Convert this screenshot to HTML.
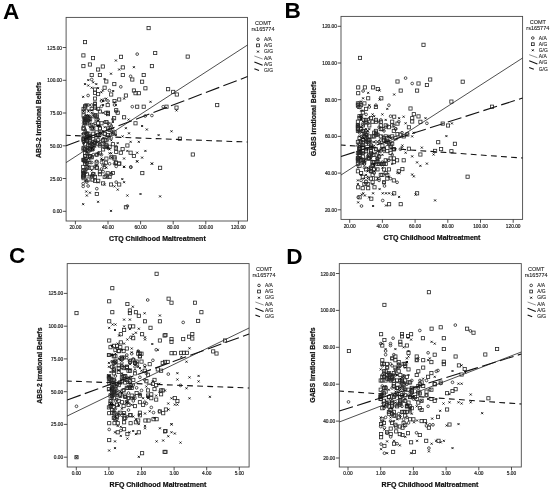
<!DOCTYPE html>
<html lang="en"><head><meta charset="utf-8"><title>COMT rs165774 scatterplots</title>
<style>html,body{margin:0;padding:0;background:#fff}svg{display:block}text{font-family:"Liberation Sans", Arial, sans-serif;fill:#1c1c1c}.tk{font-size:4.8px;stroke:#222;stroke-width:0.18px}.ti{font-size:7px;font-weight:bold;fill:#111;stroke:#111;stroke-width:0.22px}.pl{font-size:22.6px;font-weight:bold;fill:#000}.lt{font-size:5.5px;stroke:#222;stroke-width:0.1px}.li{font-size:4.9px;stroke:#222;stroke-width:0.1px}.mk{fill:none;stroke:#262626;stroke-width:0.8}.mk path{stroke-width:0.85;stroke:#000}.lm{fill:none;stroke:#1a1a1a;stroke-width:0.8}.lm path{stroke:#000;stroke-width:0.95}</style></head><body>
<svg width="550" height="490" viewBox="0 0 550 490">
<rect width="550" height="490" fill="#fff"/>
<g id="panelA">
<text class="pl" x="2.9" y="19.0">A</text>
<rect x="66.1" y="17.4" width="181.4" height="203.6" fill="none" stroke="#484848" stroke-width="0.9"/>
<text class="tk" text-anchor="middle" x="75.4" y="229.1">20.00</text>
<text class="tk" text-anchor="middle" x="108.0" y="229.1">40.00</text>
<text class="tk" text-anchor="middle" x="140.6" y="229.1">60.00</text>
<text class="tk" text-anchor="middle" x="173.2" y="229.1">80.00</text>
<text class="tk" text-anchor="middle" x="205.8" y="229.1">100.00</text>
<text class="tk" text-anchor="middle" x="238.4" y="229.1">120.00</text>
<text class="tk" text-anchor="end" x="62.0" y="213.3">0.00</text>
<text class="tk" text-anchor="end" x="62.0" y="180.5">25.00</text>
<text class="tk" text-anchor="end" x="62.0" y="147.8">50.00</text>
<text class="tk" text-anchor="end" x="62.0" y="115.0">75.00</text>
<text class="tk" text-anchor="end" x="62.0" y="82.3">100.00</text>
<text class="tk" text-anchor="end" x="62.0" y="49.5">125.00</text>
<path d="M75.4 221.0v3.4M108.0 221.0v3.4M140.6 221.0v3.4M173.2 221.0v3.4M205.8 221.0v3.4M238.4 221.0v3.4M66.1 211.3h-3.4M66.1 178.5h-3.4M66.1 145.8h-3.4M66.1 113.0h-3.4M66.1 80.3h-3.4M66.1 47.5h-3.4" stroke="#333" stroke-width="0.85" fill="none"/>
<text class="ti" text-anchor="middle" x="157.3" y="240.8">CTQ Childhood Maltreatment</text>
<text class="ti" style="font-size:6.85px" text-anchor="middle" transform="translate(40.8 119.9) rotate(-90)">ABS-2 Irrational Beliefs</text>
<g class="mk">
<rect x="83.4" y="40.5" width="3.2" height="3.2"/>
<rect x="81.8" y="53.8" width="3.2" height="3.2"/>
<rect x="91.4" y="56.5" width="3.2" height="3.2"/>
<rect x="81.8" y="64.5" width="3.2" height="3.2"/>
<rect x="88.3" y="62.9" width="3.2" height="3.2"/>
<rect x="101.2" y="64.9" width="3.2" height="3.2"/>
<rect x="96.5" y="67.9" width="3.2" height="3.2"/>
<rect x="90.1" y="73.4" width="3.2" height="3.2"/>
<rect x="98.3" y="73.4" width="3.2" height="3.2"/>
<rect x="119.4" y="55.2" width="3.2" height="3.2"/>
<rect x="121.2" y="65.8" width="3.2" height="3.2"/>
<rect x="121.2" y="73.4" width="3.2" height="3.2"/>
<rect x="147.0" y="26.5" width="3.2" height="3.2"/>
<rect x="153.6" y="51.4" width="3.2" height="3.2"/>
<rect x="150.3" y="64.5" width="3.2" height="3.2"/>
<rect x="142.1" y="73.4" width="3.2" height="3.2"/>
<rect x="130.7" y="77.9" width="3.2" height="3.2"/>
<rect x="140.5" y="80.1" width="3.2" height="3.2"/>
<rect x="143.8" y="86.7" width="3.2" height="3.2"/>
<rect x="132.3" y="88.9" width="3.2" height="3.2"/>
<rect x="137.2" y="91.6" width="3.2" height="3.2"/>
<rect x="133.9" y="91.6" width="3.2" height="3.2"/>
<rect x="104.7" y="79.9" width="3.2" height="3.2"/>
<rect x="112.7" y="82.5" width="3.2" height="3.2"/>
<rect x="103.0" y="86.1" width="3.2" height="3.2"/>
<rect x="93.4" y="87.9" width="3.2" height="3.2"/>
<rect x="93.4" y="91.2" width="3.2" height="3.2"/>
<rect x="109.6" y="92.9" width="3.2" height="3.2"/>
<rect x="124.3" y="93.9" width="3.2" height="3.2"/>
<rect x="93.4" y="97.0" width="3.2" height="3.2"/>
<rect x="117.6" y="97.9" width="3.2" height="3.2"/>
<rect x="96.5" y="92.5" width="3.2" height="3.2"/>
<circle cx="137.2" cy="54.1" r="1.35"/>
<circle cx="130.6" cy="76.3" r="1.35"/>
<circle cx="120.8" cy="86.8" r="1.35"/>
<circle cx="109.5" cy="90.5" r="1.35"/>
<circle cx="88.1" cy="95.5" r="1.35"/>
<circle cx="91.7" cy="79.5" r="1.35"/>
<path d="M114.9 59.5l2 2m0 -2l-2 2"/>
<path d="M132.9 66.2l2 2m0 -2l-2 2"/>
<path d="M118.2 68.5l2 2m0 -2l-2 2"/>
<path d="M110.0 72.7l2 2m0 -2l-2 2"/>
<path d="M87.3 79.1l2 2m0 -2l-2 2"/>
<path d="M84.0 83.1l2 2m0 -2l-2 2"/>
<path d="M87.3 84.5l2 2m0 -2l-2 2"/>
<path d="M92.2 81.3l2 2m0 -2l-2 2"/>
<path d="M95.3 83.1l2 2m0 -2l-2 2"/>
<path d="M103.6 78.0l2 2m0 -2l-2 2"/>
<path d="M90.7 86.7l2 2m0 -2l-2 2"/>
<path d="M97.1 87.1l2 2m0 -2l-2 2"/>
<path d="M100.4 91.3l2 2m0 -2l-2 2"/>
<path d="M112.2 90.0l2 2m0 -2l-2 2"/>
<path d="M82.2 95.8l2 2m0 -2l-2 2"/>
<path d="M105.3 97.6l2 2m0 -2l-2 2"/>
<path d="M123.1 97.6l2 2m0 -2l-2 2"/>
<path d="M101.8 89.5l2 2m0 -2l-2 2"/>
<rect x="186.1" y="55.0" width="3.2" height="3.2"/>
<rect x="166.5" y="87.6" width="3.2" height="3.2"/>
<rect x="171.6" y="90.3" width="3.2" height="3.2"/>
<rect x="175.2" y="92.9" width="3.2" height="3.2"/>
<circle cx="132.3" cy="106.7" r="1.35"/>
<circle cx="151.9" cy="115.5" r="1.35"/>
<circle cx="145.2" cy="116.0" r="1.35"/>
<circle cx="130.8" cy="167.3" r="1.35"/>
<circle cx="163.2" cy="106.7" r="1.35"/>
<rect x="135.6" y="105.1" width="3.2" height="3.2"/>
<rect x="142.1" y="105.1" width="3.2" height="3.2"/>
<rect x="133.9" y="121.7" width="3.2" height="3.2"/>
<rect x="106.1" y="103.5" width="3.2" height="3.2"/>
<rect x="116.1" y="111.1" width="3.2" height="3.2"/>
<rect x="122.5" y="115.7" width="3.2" height="3.2"/>
<rect x="112.5" y="116.6" width="3.2" height="3.2"/>
<rect x="125.8" y="143.9" width="3.2" height="3.2"/>
<rect x="114.3" y="146.6" width="3.2" height="3.2"/>
<rect x="121.0" y="147.5" width="3.2" height="3.2"/>
<rect x="119.2" y="151.1" width="3.2" height="3.2"/>
<rect x="129.0" y="151.1" width="3.2" height="3.2"/>
<rect x="132.3" y="154.4" width="3.2" height="3.2"/>
<rect x="117.6" y="162.0" width="3.2" height="3.2"/>
<rect x="114.3" y="161.1" width="3.2" height="3.2"/>
<path d="M149.5 100.8l2 2m0 -2l-2 2"/>
<path d="M114.9 104.1l2 2m0 -2l-2 2"/>
<path d="M127.6 118.6l2 2m0 -2l-2 2"/>
<path d="M141.1 125.0l2 2m0 -2l-2 2"/>
<path d="M145.8 128.5l2 2m0 -2l-2 2"/>
<path d="M124.9 127.2l2 2m0 -2l-2 2"/>
<path d="M128.0 132.3l2 2m0 -2l-2 2"/>
<path d="M157.6 134.1l2 2m0 -2l-2 2"/>
<path d="M114.9 134.1l2 2m0 -2l-2 2"/>
<path d="M121.6 135.4l2 2m0 -2l-2 2"/>
<path d="M129.6 140.8l2 2m0 -2l-2 2"/>
<path d="M137.8 140.8l2 2m0 -2l-2 2"/>
<path d="M116.7 142.1l2 2m0 -2l-2 2"/>
<path d="M126.4 149.9l2 2m0 -2l-2 2"/>
<path d="M136.2 151.7l2 2m0 -2l-2 2"/>
<path d="M144.4 149.9l2 2m0 -2l-2 2"/>
<path d="M141.1 156.6l2 2m0 -2l-2 2"/>
<path d="M123.1 157.5l2 2m0 -2l-2 2"/>
<path d="M136.2 160.3l2 2m0 -2l-2 2"/>
<path d="M150.9 162.6l2 2m0 -2l-2 2"/>
<path d="M123.1 165.9l2 2m0 -2l-2 2"/>
<rect x="164.9" y="105.1" width="3.2" height="3.2"/>
<rect x="174.9" y="106.0" width="3.2" height="3.2"/>
<rect x="215.6" y="103.5" width="3.2" height="3.2"/>
<rect x="178.3" y="137.1" width="3.2" height="3.2"/>
<rect x="191.2" y="152.9" width="3.2" height="3.2"/>
<path d="M175.5 109.4l2 2m0 -2l-2 2"/>
<path d="M170.5 130.3l2 2m0 -2l-2 2"/>
<rect x="81.6" y="175.3" width="3.2" height="3.2"/>
<rect x="91.0" y="178.0" width="3.2" height="3.2"/>
<rect x="98.3" y="172.6" width="3.2" height="3.2"/>
<rect x="106.1" y="171.7" width="3.2" height="3.2"/>
<rect x="109.4" y="182.9" width="3.2" height="3.2"/>
<rect x="117.6" y="182.9" width="3.2" height="3.2"/>
<rect x="95.2" y="192.4" width="3.2" height="3.2"/>
<rect x="124.3" y="205.7" width="3.2" height="3.2"/>
<rect x="140.7" y="171.5" width="3.2" height="3.2"/>
<rect x="158.5" y="166.2" width="3.2" height="3.2"/>
<rect x="81.6" y="165.3" width="3.2" height="3.2"/>
<rect x="85.2" y="165.7" width="3.2" height="3.2"/>
<rect x="95.2" y="166.0" width="3.2" height="3.2"/>
<rect x="81.6" y="169.7" width="3.2" height="3.2"/>
<rect x="117.6" y="162.0" width="3.2" height="3.2"/>
<rect x="114.3" y="161.1" width="3.2" height="3.2"/>
<rect x="104.3" y="161.1" width="3.2" height="3.2"/>
<circle cx="130.8" cy="166.9" r="1.35"/>
<circle cx="127.4" cy="206.0" r="1.35"/>
<circle cx="96.8" cy="188.7" r="1.35"/>
<circle cx="83.2" cy="183.6" r="1.35"/>
<circle cx="88.1" cy="186.0" r="1.35"/>
<circle cx="83.2" cy="186.4" r="1.35"/>
<circle cx="107.7" cy="177.3" r="1.35"/>
<circle cx="111.4" cy="174.2" r="1.35"/>
<circle cx="104.6" cy="167.3" r="1.35"/>
<path d="M123.1 165.7l2 2m0 -2l-2 2"/>
<path d="M136.2 160.5l2 2m0 -2l-2 2"/>
<path d="M150.9 162.6l2 2m0 -2l-2 2"/>
<path d="M121.3 178.1l2 2m0 -2l-2 2"/>
<path d="M123.1 181.2l2 2m0 -2l-2 2"/>
<path d="M103.6 183.5l2 2m0 -2l-2 2"/>
<path d="M113.5 185.4l2 2m0 -2l-2 2"/>
<path d="M116.7 188.6l2 2m0 -2l-2 2"/>
<path d="M97.1 181.4l2 2m0 -2l-2 2"/>
<path d="M85.3 190.5l2 2m0 -2l-2 2"/>
<path d="M88.9 191.7l2 2m0 -2l-2 2"/>
<path d="M85.8 194.5l2 2m0 -2l-2 2"/>
<path d="M126.4 194.5l2 2m0 -2l-2 2"/>
<path d="M139.5 193.0l2 2m0 -2l-2 2"/>
<path d="M159.1 195.4l2 2m0 -2l-2 2"/>
<path d="M82.2 203.2l2 2m0 -2l-2 2"/>
<path d="M97.1 200.8l2 2m0 -2l-2 2"/>
<path d="M110.0 209.9l2 2m0 -2l-2 2"/>
<path d="M92.2 173.5l2 2m0 -2l-2 2"/>
<path d="M84.0 171.7l2 2m0 -2l-2 2"/>
<circle cx="83.6" cy="173.0" r="1.35"/>
<rect x="82.0" y="126.9" width="3.2" height="3.2"/>
<rect x="82.0" y="174.0" width="3.2" height="3.2"/>
<path d="M82.6 139.3l2 2m0 -2l-2 2"/>
<rect x="82.0" y="171.4" width="3.2" height="3.2"/>
<rect x="82.0" y="172.7" width="3.2" height="3.2"/>
<path d="M82.6 110.5l2 2m0 -2l-2 2"/>
<circle cx="83.6" cy="118.0" r="1.35"/>
<rect x="82.0" y="158.3" width="3.2" height="3.2"/>
<rect x="82.0" y="168.8" width="3.2" height="3.2"/>
<rect x="82.0" y="146.5" width="3.2" height="3.2"/>
<rect x="82.0" y="138.7" width="3.2" height="3.2"/>
<rect x="82.0" y="107.3" width="3.2" height="3.2"/>
<circle cx="83.6" cy="133.7" r="1.35"/>
<rect x="82.0" y="176.6" width="3.2" height="3.2"/>
<path d="M82.6 143.2l2 2m0 -2l-2 2"/>
<circle cx="83.6" cy="159.9" r="1.35"/>
<circle cx="83.6" cy="133.7" r="1.35"/>
<rect x="82.0" y="113.8" width="3.2" height="3.2"/>
<rect x="82.0" y="174.0" width="3.2" height="3.2"/>
<circle cx="83.6" cy="141.6" r="1.35"/>
<rect x="82.0" y="126.9" width="3.2" height="3.2"/>
<circle cx="83.6" cy="123.3" r="1.35"/>
<circle cx="83.6" cy="161.2" r="1.35"/>
<circle cx="83.6" cy="120.6" r="1.35"/>
<rect x="82.0" y="137.4" width="3.2" height="3.2"/>
<rect x="82.0" y="109.9" width="3.2" height="3.2"/>
<path d="M82.6 141.9l2 2m0 -2l-2 2"/>
<rect x="82.0" y="133.4" width="3.2" height="3.2"/>
<rect x="82.0" y="158.3" width="3.2" height="3.2"/>
<rect x="82.0" y="147.8" width="3.2" height="3.2"/>
<rect x="82.0" y="137.4" width="3.2" height="3.2"/>
<circle cx="83.6" cy="125.9" r="1.35"/>
<rect x="83.6" y="121.7" width="3.2" height="3.2"/>
<rect x="83.6" y="106.0" width="3.2" height="3.2"/>
<path d="M84.2 139.3l2 2m0 -2l-2 2"/>
<rect x="83.6" y="151.7" width="3.2" height="3.2"/>
<rect x="83.6" y="154.4" width="3.2" height="3.2"/>
<circle cx="85.2" cy="129.8" r="1.35"/>
<circle cx="85.2" cy="131.1" r="1.35"/>
<rect x="83.6" y="159.6" width="3.2" height="3.2"/>
<path d="M84.2 179.8l2 2m0 -2l-2 2"/>
<rect x="83.6" y="104.7" width="3.2" height="3.2"/>
<rect x="83.6" y="117.7" width="3.2" height="3.2"/>
<circle cx="85.2" cy="140.3" r="1.35"/>
<rect x="83.6" y="147.8" width="3.2" height="3.2"/>
<rect x="83.6" y="117.7" width="3.2" height="3.2"/>
<path d="M84.2 156.3l2 2m0 -2l-2 2"/>
<rect x="83.6" y="147.8" width="3.2" height="3.2"/>
<rect x="83.6" y="117.7" width="3.2" height="3.2"/>
<rect x="83.6" y="162.2" width="3.2" height="3.2"/>
<circle cx="85.2" cy="105.0" r="1.35"/>
<path d="M84.2 138.0l2 2m0 -2l-2 2"/>
<circle cx="85.2" cy="120.6" r="1.35"/>
<circle cx="85.2" cy="116.7" r="1.35"/>
<rect x="83.6" y="159.6" width="3.2" height="3.2"/>
<rect x="83.6" y="154.4" width="3.2" height="3.2"/>
<path d="M84.2 118.3l2 2m0 -2l-2 2"/>
<rect x="83.6" y="142.6" width="3.2" height="3.2"/>
<rect x="83.6" y="120.4" width="3.2" height="3.2"/>
<rect x="83.6" y="170.1" width="3.2" height="3.2"/>
<rect x="85.2" y="138.7" width="3.2" height="3.2"/>
<path d="M85.8 148.4l2 2m0 -2l-2 2"/>
<rect x="85.2" y="115.1" width="3.2" height="3.2"/>
<circle cx="86.8" cy="169.0" r="1.35"/>
<rect x="85.2" y="136.1" width="3.2" height="3.2"/>
<rect x="85.2" y="132.1" width="3.2" height="3.2"/>
<rect x="85.2" y="121.7" width="3.2" height="3.2"/>
<path d="M85.8 131.4l2 2m0 -2l-2 2"/>
<circle cx="86.8" cy="122.0" r="1.35"/>
<circle cx="86.8" cy="119.3" r="1.35"/>
<path d="M85.8 161.5l2 2m0 -2l-2 2"/>
<rect x="85.2" y="172.7" width="3.2" height="3.2"/>
<circle cx="86.8" cy="133.7" r="1.35"/>
<path d="M85.8 136.7l2 2m0 -2l-2 2"/>
<path d="M85.8 132.7l2 2m0 -2l-2 2"/>
<rect x="85.2" y="138.7" width="3.2" height="3.2"/>
<circle cx="86.8" cy="141.6" r="1.35"/>
<rect x="85.2" y="160.9" width="3.2" height="3.2"/>
<circle cx="86.8" cy="182.1" r="1.35"/>
<path d="M85.8 151.0l2 2m0 -2l-2 2"/>
<circle cx="86.8" cy="153.3" r="1.35"/>
<circle cx="86.8" cy="163.8" r="1.35"/>
<circle cx="86.8" cy="105.0" r="1.35"/>
<circle cx="86.8" cy="180.8" r="1.35"/>
<path d="M85.8 114.4l2 2m0 -2l-2 2"/>
<path d="M87.4 157.6l2 2m0 -2l-2 2"/>
<path d="M87.4 157.6l2 2m0 -2l-2 2"/>
<circle cx="88.4" cy="105.0" r="1.35"/>
<circle cx="88.4" cy="120.6" r="1.35"/>
<path d="M87.4 141.9l2 2m0 -2l-2 2"/>
<path d="M87.4 165.4l2 2m0 -2l-2 2"/>
<rect x="86.8" y="117.7" width="3.2" height="3.2"/>
<path d="M87.4 138.0l2 2m0 -2l-2 2"/>
<rect x="86.8" y="143.9" width="3.2" height="3.2"/>
<rect x="86.8" y="132.1" width="3.2" height="3.2"/>
<rect x="86.8" y="177.9" width="3.2" height="3.2"/>
<path d="M87.4 114.4l2 2m0 -2l-2 2"/>
<rect x="86.8" y="136.1" width="3.2" height="3.2"/>
<path d="M87.4 109.2l2 2m0 -2l-2 2"/>
<rect x="86.8" y="116.4" width="3.2" height="3.2"/>
<rect x="86.8" y="146.5" width="3.2" height="3.2"/>
<circle cx="88.4" cy="154.7" r="1.35"/>
<rect x="86.8" y="166.1" width="3.2" height="3.2"/>
<rect x="86.8" y="158.3" width="3.2" height="3.2"/>
<rect x="86.8" y="149.1" width="3.2" height="3.2"/>
<path d="M87.4 110.5l2 2m0 -2l-2 2"/>
<rect x="86.8" y="116.4" width="3.2" height="3.2"/>
<rect x="88.5" y="143.9" width="3.2" height="3.2"/>
<rect x="88.5" y="140.0" width="3.2" height="3.2"/>
<path d="M89.1 119.6l2 2m0 -2l-2 2"/>
<circle cx="90.1" cy="162.5" r="1.35"/>
<circle cx="90.1" cy="137.7" r="1.35"/>
<rect x="88.5" y="147.8" width="3.2" height="3.2"/>
<circle cx="90.1" cy="136.3" r="1.35"/>
<path d="M89.1 126.2l2 2m0 -2l-2 2"/>
<rect x="88.5" y="154.4" width="3.2" height="3.2"/>
<rect x="88.5" y="117.7" width="3.2" height="3.2"/>
<circle cx="90.1" cy="116.7" r="1.35"/>
<rect x="88.5" y="136.1" width="3.2" height="3.2"/>
<path d="M89.1 122.3l2 2m0 -2l-2 2"/>
<path d="M89.1 174.6l2 2m0 -2l-2 2"/>
<circle cx="90.1" cy="125.9" r="1.35"/>
<rect x="88.5" y="147.8" width="3.2" height="3.2"/>
<rect x="88.5" y="154.4" width="3.2" height="3.2"/>
<rect x="88.5" y="134.7" width="3.2" height="3.2"/>
<rect x="88.5" y="141.3" width="3.2" height="3.2"/>
<rect x="88.5" y="154.4" width="3.2" height="3.2"/>
<path d="M90.7 148.4l2 2m0 -2l-2 2"/>
<path d="M90.7 169.4l2 2m0 -2l-2 2"/>
<circle cx="91.7" cy="176.9" r="1.35"/>
<rect x="90.1" y="107.3" width="3.2" height="3.2"/>
<rect x="90.1" y="155.7" width="3.2" height="3.2"/>
<circle cx="91.7" cy="175.6" r="1.35"/>
<rect x="90.1" y="126.9" width="3.2" height="3.2"/>
<circle cx="91.7" cy="162.5" r="1.35"/>
<path d="M90.7 109.2l2 2m0 -2l-2 2"/>
<rect x="90.1" y="147.8" width="3.2" height="3.2"/>
<path d="M90.7 147.1l2 2m0 -2l-2 2"/>
<circle cx="91.7" cy="142.9" r="1.35"/>
<circle cx="91.7" cy="157.3" r="1.35"/>
<circle cx="91.7" cy="105.0" r="1.35"/>
<rect x="90.1" y="142.6" width="3.2" height="3.2"/>
<rect x="90.1" y="166.1" width="3.2" height="3.2"/>
<path d="M90.7 111.8l2 2m0 -2l-2 2"/>
<circle cx="91.7" cy="124.6" r="1.35"/>
<circle cx="93.3" cy="145.5" r="1.35"/>
<rect x="91.7" y="137.4" width="3.2" height="3.2"/>
<rect x="91.7" y="132.1" width="3.2" height="3.2"/>
<circle cx="93.3" cy="154.7" r="1.35"/>
<path d="M92.3 127.5l2 2m0 -2l-2 2"/>
<path d="M92.3 126.2l2 2m0 -2l-2 2"/>
<circle cx="93.3" cy="116.7" r="1.35"/>
<rect x="91.7" y="172.7" width="3.2" height="3.2"/>
<rect x="91.7" y="126.9" width="3.2" height="3.2"/>
<path d="M92.3 141.9l2 2m0 -2l-2 2"/>
<path d="M92.3 148.4l2 2m0 -2l-2 2"/>
<path d="M92.3 145.8l2 2m0 -2l-2 2"/>
<circle cx="93.3" cy="149.4" r="1.35"/>
<circle cx="93.3" cy="114.1" r="1.35"/>
<circle cx="93.3" cy="124.6" r="1.35"/>
<rect x="91.7" y="172.7" width="3.2" height="3.2"/>
<path d="M94.0 143.2l2 2m0 -2l-2 2"/>
<rect x="93.4" y="175.3" width="3.2" height="3.2"/>
<circle cx="95.0" cy="140.3" r="1.35"/>
<circle cx="95.0" cy="166.4" r="1.35"/>
<path d="M94.0 140.6l2 2m0 -2l-2 2"/>
<rect x="93.4" y="179.2" width="3.2" height="3.2"/>
<path d="M94.0 135.3l2 2m0 -2l-2 2"/>
<circle cx="95.0" cy="103.6" r="1.35"/>
<rect x="93.4" y="141.3" width="3.2" height="3.2"/>
<rect x="93.4" y="106.0" width="3.2" height="3.2"/>
<rect x="93.4" y="113.8" width="3.2" height="3.2"/>
<path d="M94.0 145.8l2 2m0 -2l-2 2"/>
<circle cx="95.0" cy="123.3" r="1.35"/>
<rect x="93.4" y="104.7" width="3.2" height="3.2"/>
<rect x="93.4" y="102.0" width="3.2" height="3.2"/>
<rect x="95.0" y="130.8" width="3.2" height="3.2"/>
<rect x="95.0" y="160.9" width="3.2" height="3.2"/>
<path d="M95.6 107.9l2 2m0 -2l-2 2"/>
<rect x="95.0" y="113.8" width="3.2" height="3.2"/>
<rect x="95.0" y="115.1" width="3.2" height="3.2"/>
<rect x="95.0" y="166.1" width="3.2" height="3.2"/>
<rect x="95.0" y="142.6" width="3.2" height="3.2"/>
<rect x="95.0" y="153.1" width="3.2" height="3.2"/>
<path d="M95.6 140.6l2 2m0 -2l-2 2"/>
<circle cx="96.6" cy="161.2" r="1.35"/>
<path d="M95.6 164.1l2 2m0 -2l-2 2"/>
<path d="M95.6 124.9l2 2m0 -2l-2 2"/>
<circle cx="96.6" cy="154.7" r="1.35"/>
<rect x="95.0" y="117.7" width="3.2" height="3.2"/>
<circle cx="98.2" cy="153.3" r="1.35"/>
<circle cx="98.2" cy="119.3" r="1.35"/>
<path d="M97.2 124.9l2 2m0 -2l-2 2"/>
<rect x="96.6" y="121.7" width="3.2" height="3.2"/>
<rect x="96.6" y="107.3" width="3.2" height="3.2"/>
<rect x="96.6" y="133.4" width="3.2" height="3.2"/>
<path d="M97.2 152.3l2 2m0 -2l-2 2"/>
<path d="M97.2 119.6l2 2m0 -2l-2 2"/>
<circle cx="98.2" cy="136.3" r="1.35"/>
<path d="M97.2 124.9l2 2m0 -2l-2 2"/>
<path d="M97.2 140.6l2 2m0 -2l-2 2"/>
<rect x="96.6" y="179.2" width="3.2" height="3.2"/>
<rect x="96.6" y="138.7" width="3.2" height="3.2"/>
<path d="M98.9 131.4l2 2m0 -2l-2 2"/>
<path d="M98.9 132.7l2 2m0 -2l-2 2"/>
<rect x="98.3" y="151.7" width="3.2" height="3.2"/>
<rect x="98.3" y="143.9" width="3.2" height="3.2"/>
<rect x="98.3" y="126.9" width="3.2" height="3.2"/>
<circle cx="99.9" cy="144.2" r="1.35"/>
<rect x="98.3" y="126.9" width="3.2" height="3.2"/>
<rect x="98.3" y="170.1" width="3.2" height="3.2"/>
<path d="M98.9 131.4l2 2m0 -2l-2 2"/>
<circle cx="99.9" cy="135.0" r="1.35"/>
<path d="M98.9 124.9l2 2m0 -2l-2 2"/>
<rect x="98.3" y="109.9" width="3.2" height="3.2"/>
<path d="M100.5 132.7l2 2m0 -2l-2 2"/>
<rect x="99.9" y="121.7" width="3.2" height="3.2"/>
<path d="M100.5 98.7l2 2m0 -2l-2 2"/>
<circle cx="101.5" cy="169.0" r="1.35"/>
<path d="M100.5 157.6l2 2m0 -2l-2 2"/>
<path d="M100.5 158.9l2 2m0 -2l-2 2"/>
<rect x="99.9" y="142.6" width="3.2" height="3.2"/>
<circle cx="101.5" cy="101.0" r="1.35"/>
<circle cx="101.5" cy="162.5" r="1.35"/>
<circle cx="101.5" cy="106.3" r="1.35"/>
<circle cx="101.5" cy="154.7" r="1.35"/>
<rect x="101.5" y="181.8" width="3.2" height="3.2"/>
<rect x="101.5" y="138.7" width="3.2" height="3.2"/>
<rect x="101.5" y="147.8" width="3.2" height="3.2"/>
<path d="M102.1 111.8l2 2m0 -2l-2 2"/>
<path d="M102.1 136.7l2 2m0 -2l-2 2"/>
<path d="M102.1 130.1l2 2m0 -2l-2 2"/>
<path d="M102.1 158.9l2 2m0 -2l-2 2"/>
<path d="M102.1 104.0l2 2m0 -2l-2 2"/>
<circle cx="103.1" cy="165.1" r="1.35"/>
<circle cx="103.1" cy="171.7" r="1.35"/>
<path d="M102.1 100.0l2 2m0 -2l-2 2"/>
<rect x="103.1" y="132.1" width="3.2" height="3.2"/>
<rect x="103.1" y="145.2" width="3.2" height="3.2"/>
<rect x="103.1" y="132.1" width="3.2" height="3.2"/>
<circle cx="104.7" cy="122.0" r="1.35"/>
<path d="M103.7 126.2l2 2m0 -2l-2 2"/>
<path d="M103.7 141.9l2 2m0 -2l-2 2"/>
<circle cx="104.7" cy="99.7" r="1.35"/>
<rect x="103.1" y="138.7" width="3.2" height="3.2"/>
<rect x="103.1" y="175.3" width="3.2" height="3.2"/>
<circle cx="104.7" cy="165.1" r="1.35"/>
<rect x="104.8" y="120.4" width="3.2" height="3.2"/>
<rect x="104.8" y="111.2" width="3.2" height="3.2"/>
<circle cx="106.4" cy="146.8" r="1.35"/>
<rect x="104.8" y="143.9" width="3.2" height="3.2"/>
<rect x="104.8" y="174.0" width="3.2" height="3.2"/>
<rect x="104.8" y="143.9" width="3.2" height="3.2"/>
<rect x="104.8" y="157.0" width="3.2" height="3.2"/>
<path d="M105.4 166.7l2 2m0 -2l-2 2"/>
<rect x="104.8" y="138.7" width="3.2" height="3.2"/>
<rect x="106.4" y="133.4" width="3.2" height="3.2"/>
<rect x="106.4" y="112.5" width="3.2" height="3.2"/>
<circle cx="108.0" cy="101.0" r="1.35"/>
<circle cx="108.0" cy="139.0" r="1.35"/>
<circle cx="108.0" cy="148.1" r="1.35"/>
<rect x="106.4" y="111.2" width="3.2" height="3.2"/>
<rect x="106.4" y="126.9" width="3.2" height="3.2"/>
<path d="M107.0 147.1l2 2m0 -2l-2 2"/>
<circle cx="108.0" cy="123.3" r="1.35"/>
<path d="M108.6 148.4l2 2m0 -2l-2 2"/>
<rect x="108.0" y="145.2" width="3.2" height="3.2"/>
<path d="M108.6 135.3l2 2m0 -2l-2 2"/>
<rect x="108.0" y="128.2" width="3.2" height="3.2"/>
<rect x="108.0" y="175.3" width="3.2" height="3.2"/>
<rect x="108.0" y="123.0" width="3.2" height="3.2"/>
<circle cx="109.6" cy="163.8" r="1.35"/>
<path d="M108.6 152.3l2 2m0 -2l-2 2"/>
<path d="M110.3 139.3l2 2m0 -2l-2 2"/>
<circle cx="111.3" cy="137.7" r="1.35"/>
<circle cx="111.3" cy="125.9" r="1.35"/>
<rect x="109.7" y="155.7" width="3.2" height="3.2"/>
<path d="M110.3 156.3l2 2m0 -2l-2 2"/>
<path d="M110.3 172.0l2 2m0 -2l-2 2"/>
<path d="M110.3 152.3l2 2m0 -2l-2 2"/>
<circle cx="111.3" cy="131.1" r="1.35"/>
<circle cx="112.9" cy="119.3" r="1.35"/>
<rect x="111.3" y="132.1" width="3.2" height="3.2"/>
<rect x="111.3" y="142.6" width="3.2" height="3.2"/>
<rect x="111.3" y="171.4" width="3.2" height="3.2"/>
<path d="M111.9 121.0l2 2m0 -2l-2 2"/>
<path d="M111.9 127.5l2 2m0 -2l-2 2"/>
<path d="M111.9 132.7l2 2m0 -2l-2 2"/>
<rect x="112.9" y="155.7" width="3.2" height="3.2"/>
<rect x="112.9" y="157.0" width="3.2" height="3.2"/>
<circle cx="114.5" cy="163.8" r="1.35"/>
<rect x="112.9" y="99.4" width="3.2" height="3.2"/>
<path d="M113.5 101.3l2 2m0 -2l-2 2"/>
<circle cx="114.5" cy="105.0" r="1.35"/>
<rect x="112.9" y="130.8" width="3.2" height="3.2"/>
<circle cx="116.2" cy="111.5" r="1.35"/>
<circle cx="116.2" cy="166.4" r="1.35"/>
<rect x="114.6" y="108.6" width="3.2" height="3.2"/>
<circle cx="116.2" cy="182.1" r="1.35"/>
<rect x="114.6" y="150.4" width="3.2" height="3.2"/>
<circle cx="116.2" cy="146.8" r="1.35"/>
</g>
<line x1="66.1" y1="162.6" x2="247.5" y2="45.0" stroke="#222" stroke-width="0.8"/>
<line x1="66.1" y1="145.8" x2="247.5" y2="76.6" stroke="#111" stroke-width="1.1" stroke-dasharray="14.3 4.4"/>
<line x1="66.1" y1="135.3" x2="247.5" y2="142.0" stroke="#111" stroke-width="1.1" stroke-dasharray="5.8 4.3" stroke-dashoffset="1.2"/>
<text class="lt" text-anchor="middle" x="263.0" y="25.3">COMT</text>
<text class="lt" text-anchor="middle" x="263.0" y="31.1">rs165774</text>
<text class="li" x="264.0" y="41.0">A/A</text>
<text class="li" x="264.0" y="47.1">A/G</text>
<text class="li" x="264.0" y="53.3">G/G</text>
<text class="li" x="264.0" y="59.5">A/A</text>
<text class="li" x="264.0" y="65.6">A/G</text>
<text class="li" x="264.0" y="71.8">G/G</text>
<g class="lm"><circle cx="258.0" cy="39.3" r="1.3"/><rect x="256.6" y="44.0" width="2.8" height="2.8"/><path d="M257.1 50.7l1.8 1.8m0 -1.8l-1.8 1.8"/></g>
<line x1="254.4" y1="56.0" x2="262.6" y2="59.0" stroke="#222" stroke-width="0.5"/>
<line x1="254.4" y1="62.1" x2="262.6" y2="65.3" stroke="#111" stroke-width="1.1"/>
<line x1="254.4" y1="68.8" x2="259.0" y2="70.6" stroke="#111" stroke-width="1.1"/>
</g>
<g id="panelB">
<text class="pl" x="284.5" y="18.4">B</text>
<rect x="341.0" y="16.4" width="181.6" height="203.0" fill="none" stroke="#484848" stroke-width="0.9"/>
<text class="tk" text-anchor="middle" x="349.7" y="227.5">20.00</text>
<text class="tk" text-anchor="middle" x="382.4" y="227.5">40.00</text>
<text class="tk" text-anchor="middle" x="415.1" y="227.5">60.00</text>
<text class="tk" text-anchor="middle" x="447.8" y="227.5">80.00</text>
<text class="tk" text-anchor="middle" x="480.5" y="227.5">100.00</text>
<text class="tk" text-anchor="middle" x="513.2" y="227.5">120.00</text>
<text class="tk" text-anchor="end" x="336.9" y="211.8">20.00</text>
<text class="tk" text-anchor="end" x="336.9" y="175.1">40.00</text>
<text class="tk" text-anchor="end" x="336.9" y="138.4">60.00</text>
<text class="tk" text-anchor="end" x="336.9" y="101.7">80.00</text>
<text class="tk" text-anchor="end" x="336.9" y="65.0">100.00</text>
<text class="tk" text-anchor="end" x="336.9" y="28.3">120.00</text>
<path d="M349.7 219.4v3.4M382.4 219.4v3.4M415.1 219.4v3.4M447.8 219.4v3.4M480.5 219.4v3.4M513.2 219.4v3.4M341.0 209.8h-3.4M341.0 173.1h-3.4M341.0 136.4h-3.4M341.0 99.7h-3.4M341.0 63.0h-3.4M341.0 26.3h-3.4" stroke="#333" stroke-width="0.85" fill="none"/>
<text class="ti" text-anchor="middle" x="432.0" y="239.8">CTQ Childhood Maltreatment</text>
<text class="ti" style="font-size:6.85px" text-anchor="middle" transform="translate(315.6 118.5) rotate(-90)">GABS Irrational Beliefs</text>
<g class="mk">
<rect x="358.4" y="56.3" width="3.2" height="3.2"/>
<rect x="421.9" y="43.2" width="3.2" height="3.2"/>
<rect x="395.9" y="79.9" width="3.2" height="3.2"/>
<rect x="416.9" y="81.9" width="3.2" height="3.2"/>
<rect x="428.6" y="77.9" width="3.2" height="3.2"/>
<rect x="425.3" y="83.4" width="3.2" height="3.2"/>
<rect x="399.1" y="89.0" width="3.2" height="3.2"/>
<rect x="415.5" y="89.0" width="3.2" height="3.2"/>
<rect x="356.6" y="85.8" width="3.2" height="3.2"/>
<rect x="363.3" y="85.8" width="3.2" height="3.2"/>
<rect x="371.5" y="85.8" width="3.2" height="3.2"/>
<rect x="376.2" y="87.4" width="3.2" height="3.2"/>
<rect x="356.6" y="91.6" width="3.2" height="3.2"/>
<rect x="366.6" y="96.7" width="3.2" height="3.2"/>
<rect x="379.7" y="96.7" width="3.2" height="3.2"/>
<circle cx="405.6" cy="78.1" r="1.35"/>
<circle cx="412.2" cy="83.5" r="1.35"/>
<circle cx="363.1" cy="91.0" r="1.35"/>
<path d="M367.2 91.8l2 2m0 -2l-2 2"/>
<path d="M378.6 89.5l2 2m0 -2l-2 2"/>
<path d="M393.2 93.5l2 2m0 -2l-2 2"/>
<path d="M362.1 97.3l2 2m0 -2l-2 2"/>
<path d="M378.6 98.5l2 2m0 -2l-2 2"/>
<rect x="408.9" y="106.9" width="3.2" height="3.2"/>
<rect x="412.2" y="112.6" width="3.2" height="3.2"/>
<rect x="416.9" y="114.8" width="3.2" height="3.2"/>
<rect x="410.6" y="116.6" width="3.2" height="3.2"/>
<rect x="410.6" y="119.9" width="3.2" height="3.2"/>
<rect x="418.8" y="120.2" width="3.2" height="3.2"/>
<rect x="395.9" y="122.0" width="3.2" height="3.2"/>
<rect x="407.3" y="125.7" width="3.2" height="3.2"/>
<rect x="395.9" y="132.6" width="3.2" height="3.2"/>
<rect x="405.7" y="132.9" width="3.2" height="3.2"/>
<rect x="436.6" y="140.6" width="3.2" height="3.2"/>
<rect x="407.3" y="147.1" width="3.2" height="3.2"/>
<rect x="433.5" y="149.3" width="3.2" height="3.2"/>
<rect x="418.8" y="152.9" width="3.2" height="3.2"/>
<rect x="400.8" y="167.5" width="3.2" height="3.2"/>
<rect x="392.6" y="115.1" width="3.2" height="3.2"/>
<circle cx="426.9" cy="123.3" r="1.35"/>
<circle cx="395.8" cy="128.7" r="1.35"/>
<circle cx="407.3" cy="133.6" r="1.35"/>
<path d="M398.1 117.2l2 2m0 -2l-2 2"/>
<path d="M402.6 115.7l2 2m0 -2l-2 2"/>
<path d="M424.5 117.2l2 2m0 -2l-2 2"/>
<path d="M404.6 122.3l2 2m0 -2l-2 2"/>
<path d="M412.8 131.7l2 2m0 -2l-2 2"/>
<path d="M411.2 135.4l2 2m0 -2l-2 2"/>
<path d="M401.4 144.5l2 2m0 -2l-2 2"/>
<path d="M420.8 146.6l2 2m0 -2l-2 2"/>
<path d="M404.6 151.7l2 2m0 -2l-2 2"/>
<path d="M411.2 155.4l2 2m0 -2l-2 2"/>
<path d="M432.6 153.5l2 2m0 -2l-2 2"/>
<path d="M416.1 161.4l2 2m0 -2l-2 2"/>
<path d="M419.4 164.8l2 2m0 -2l-2 2"/>
<path d="M425.9 162.6l2 2m0 -2l-2 2"/>
<path d="M398.1 172.3l2 2m0 -2l-2 2"/>
<path d="M411.2 173.5l2 2m0 -2l-2 2"/>
<path d="M412.8 175.4l2 2m0 -2l-2 2"/>
<path d="M396.5 171.7l2 2m0 -2l-2 2"/>
<rect x="361.1" y="186.6" width="3.2" height="3.2"/>
<rect x="366.6" y="186.6" width="3.2" height="3.2"/>
<rect x="372.9" y="185.7" width="3.2" height="3.2"/>
<rect x="392.6" y="191.7" width="3.2" height="3.2"/>
<rect x="415.5" y="191.7" width="3.2" height="3.2"/>
<rect x="369.7" y="197.1" width="3.2" height="3.2"/>
<rect x="387.5" y="202.6" width="3.2" height="3.2"/>
<rect x="399.1" y="202.6" width="3.2" height="3.2"/>
<rect x="356.6" y="185.7" width="3.2" height="3.2"/>
<rect x="358.0" y="195.7" width="3.2" height="3.2"/>
<circle cx="384.5" cy="186.0" r="1.35"/>
<circle cx="382.7" cy="200.5" r="1.35"/>
<circle cx="361.5" cy="206.0" r="1.35"/>
<circle cx="358.2" cy="197.3" r="1.35"/>
<path d="M378.6 188.1l2 2m0 -2l-2 2"/>
<path d="M372.1 192.3l2 2m0 -2l-2 2"/>
<path d="M381.7 192.3l2 2m0 -2l-2 2"/>
<path d="M385.0 192.3l2 2m0 -2l-2 2"/>
<path d="M388.1 192.3l2 2m0 -2l-2 2"/>
<path d="M398.1 195.9l2 2m0 -2l-2 2"/>
<path d="M414.5 193.5l2 2m0 -2l-2 2"/>
<path d="M391.7 193.5l2 2m0 -2l-2 2"/>
<path d="M357.2 201.4l2 2m0 -2l-2 2"/>
<path d="M372.1 205.0l2 2m0 -2l-2 2"/>
<path d="M385.0 204.5l2 2m0 -2l-2 2"/>
<path d="M434.1 199.4l2 2m0 -2l-2 2"/>
<path d="M360.8 193.5l2 2m0 -2l-2 2"/>
<path d="M363.9 194.5l2 2m0 -2l-2 2"/>
<path d="M368.1 196.3l2 2m0 -2l-2 2"/>
<path d="M362.3 192.3l2 2m0 -2l-2 2"/>
<rect x="461.1" y="80.1" width="3.2" height="3.2"/>
<rect x="449.8" y="100.0" width="3.2" height="3.2"/>
<rect x="490.4" y="105.1" width="3.2" height="3.2"/>
<rect x="441.1" y="122.0" width="3.2" height="3.2"/>
<rect x="446.4" y="123.9" width="3.2" height="3.2"/>
<rect x="453.3" y="142.2" width="3.2" height="3.2"/>
<rect x="439.5" y="147.5" width="3.2" height="3.2"/>
<rect x="449.8" y="149.6" width="3.2" height="3.2"/>
<rect x="466.0" y="175.1" width="3.2" height="3.2"/>
<path d="M445.4 135.1l2 2m0 -2l-2 2"/>
<path d="M450.9 122.4l2 2m0 -2l-2 2"/>
<path d="M356.9 183.1l2 2m0 -2l-2 2"/>
<rect x="356.3" y="140.3" width="3.2" height="3.2"/>
<rect x="356.3" y="120.1" width="3.2" height="3.2"/>
<circle cx="357.9" cy="145.6" r="1.35"/>
<path d="M356.9 159.3l2 2m0 -2l-2 2"/>
<path d="M356.9 179.4l2 2m0 -2l-2 2"/>
<rect x="356.3" y="129.3" width="3.2" height="3.2"/>
<circle cx="357.9" cy="125.4" r="1.35"/>
<rect x="356.3" y="101.8" width="3.2" height="3.2"/>
<path d="M356.9 129.9l2 2m0 -2l-2 2"/>
<circle cx="357.9" cy="160.3" r="1.35"/>
<rect x="356.3" y="123.8" width="3.2" height="3.2"/>
<path d="M356.9 124.4l2 2m0 -2l-2 2"/>
<circle cx="357.9" cy="107.0" r="1.35"/>
<rect x="356.3" y="125.6" width="3.2" height="3.2"/>
<rect x="356.3" y="127.5" width="3.2" height="3.2"/>
<path d="M356.9 157.4l2 2m0 -2l-2 2"/>
<rect x="356.3" y="156.8" width="3.2" height="3.2"/>
<rect x="356.3" y="123.8" width="3.2" height="3.2"/>
<rect x="356.3" y="103.6" width="3.2" height="3.2"/>
<rect x="356.3" y="169.7" width="3.2" height="3.2"/>
<rect x="356.3" y="162.3" width="3.2" height="3.2"/>
<circle cx="357.9" cy="156.6" r="1.35"/>
<rect x="356.3" y="158.7" width="3.2" height="3.2"/>
<path d="M356.9 166.6l2 2m0 -2l-2 2"/>
<rect x="356.3" y="151.3" width="3.2" height="3.2"/>
<rect x="356.3" y="156.8" width="3.2" height="3.2"/>
<path d="M358.5 150.1l2 2m0 -2l-2 2"/>
<rect x="357.9" y="136.6" width="3.2" height="3.2"/>
<rect x="357.9" y="164.2" width="3.2" height="3.2"/>
<rect x="357.9" y="147.6" width="3.2" height="3.2"/>
<path d="M358.5 144.6l2 2m0 -2l-2 2"/>
<rect x="357.9" y="156.8" width="3.2" height="3.2"/>
<rect x="357.9" y="147.6" width="3.2" height="3.2"/>
<rect x="357.9" y="153.2" width="3.2" height="3.2"/>
<rect x="357.9" y="151.3" width="3.2" height="3.2"/>
<rect x="357.9" y="151.3" width="3.2" height="3.2"/>
<circle cx="359.5" cy="152.9" r="1.35"/>
<rect x="357.9" y="116.5" width="3.2" height="3.2"/>
<circle cx="359.5" cy="132.7" r="1.35"/>
<rect x="357.9" y="149.5" width="3.2" height="3.2"/>
<circle cx="359.5" cy="130.9" r="1.35"/>
<rect x="357.9" y="105.4" width="3.2" height="3.2"/>
<rect x="357.9" y="151.3" width="3.2" height="3.2"/>
<rect x="357.9" y="101.8" width="3.2" height="3.2"/>
<path d="M358.5 139.1l2 2m0 -2l-2 2"/>
<circle cx="359.5" cy="147.4" r="1.35"/>
<rect x="357.9" y="114.6" width="3.2" height="3.2"/>
<rect x="357.9" y="145.8" width="3.2" height="3.2"/>
<path d="M358.5 135.4l2 2m0 -2l-2 2"/>
<rect x="357.9" y="142.1" width="3.2" height="3.2"/>
<path d="M360.1 115.2l2 2m0 -2l-2 2"/>
<circle cx="361.1" cy="152.9" r="1.35"/>
<circle cx="361.1" cy="136.4" r="1.35"/>
<rect x="359.5" y="127.5" width="3.2" height="3.2"/>
<path d="M360.1 117.1l2 2m0 -2l-2 2"/>
<path d="M360.1 157.4l2 2m0 -2l-2 2"/>
<rect x="359.5" y="140.3" width="3.2" height="3.2"/>
<path d="M360.1 126.2l2 2m0 -2l-2 2"/>
<circle cx="361.1" cy="152.9" r="1.35"/>
<rect x="359.5" y="158.7" width="3.2" height="3.2"/>
<circle cx="361.1" cy="145.6" r="1.35"/>
<path d="M360.1 118.9l2 2m0 -2l-2 2"/>
<rect x="359.5" y="103.6" width="3.2" height="3.2"/>
<path d="M360.1 157.4l2 2m0 -2l-2 2"/>
<path d="M360.1 109.7l2 2m0 -2l-2 2"/>
<rect x="359.5" y="171.5" width="3.2" height="3.2"/>
<path d="M360.1 173.9l2 2m0 -2l-2 2"/>
<rect x="359.5" y="114.6" width="3.2" height="3.2"/>
<circle cx="361.1" cy="162.1" r="1.35"/>
<path d="M360.1 100.5l2 2m0 -2l-2 2"/>
<circle cx="361.1" cy="180.4" r="1.35"/>
<rect x="361.2" y="155.0" width="3.2" height="3.2"/>
<rect x="361.2" y="138.5" width="3.2" height="3.2"/>
<path d="M361.8 109.7l2 2m0 -2l-2 2"/>
<path d="M361.8 162.9l2 2m0 -2l-2 2"/>
<path d="M361.8 124.4l2 2m0 -2l-2 2"/>
<rect x="361.2" y="123.8" width="3.2" height="3.2"/>
<rect x="361.2" y="145.8" width="3.2" height="3.2"/>
<path d="M361.8 120.7l2 2m0 -2l-2 2"/>
<rect x="361.2" y="138.5" width="3.2" height="3.2"/>
<path d="M361.8 137.2l2 2m0 -2l-2 2"/>
<circle cx="362.8" cy="145.6" r="1.35"/>
<rect x="361.2" y="149.5" width="3.2" height="3.2"/>
<rect x="361.2" y="140.3" width="3.2" height="3.2"/>
<rect x="361.2" y="129.3" width="3.2" height="3.2"/>
<rect x="361.2" y="110.9" width="3.2" height="3.2"/>
<rect x="361.2" y="175.2" width="3.2" height="3.2"/>
<rect x="361.2" y="158.7" width="3.2" height="3.2"/>
<rect x="361.2" y="129.3" width="3.2" height="3.2"/>
<path d="M361.8 135.4l2 2m0 -2l-2 2"/>
<rect x="361.2" y="151.3" width="3.2" height="3.2"/>
<path d="M363.4 161.1l2 2m0 -2l-2 2"/>
<rect x="362.8" y="134.8" width="3.2" height="3.2"/>
<circle cx="364.4" cy="163.9" r="1.35"/>
<path d="M363.4 137.2l2 2m0 -2l-2 2"/>
<circle cx="364.4" cy="163.9" r="1.35"/>
<path d="M363.4 177.6l2 2m0 -2l-2 2"/>
<circle cx="364.4" cy="123.6" r="1.35"/>
<rect x="362.8" y="182.5" width="3.2" height="3.2"/>
<path d="M363.4 159.3l2 2m0 -2l-2 2"/>
<rect x="362.8" y="158.7" width="3.2" height="3.2"/>
<rect x="362.8" y="118.3" width="3.2" height="3.2"/>
<path d="M363.4 133.6l2 2m0 -2l-2 2"/>
<rect x="362.8" y="131.1" width="3.2" height="3.2"/>
<rect x="362.8" y="101.8" width="3.2" height="3.2"/>
<circle cx="364.4" cy="134.6" r="1.35"/>
<circle cx="364.4" cy="167.6" r="1.35"/>
<circle cx="364.4" cy="162.1" r="1.35"/>
<path d="M363.4 151.9l2 2m0 -2l-2 2"/>
<circle cx="366.1" cy="134.6" r="1.35"/>
<rect x="364.5" y="180.7" width="3.2" height="3.2"/>
<path d="M365.1 173.9l2 2m0 -2l-2 2"/>
<rect x="364.5" y="147.6" width="3.2" height="3.2"/>
<rect x="364.5" y="120.1" width="3.2" height="3.2"/>
<rect x="364.5" y="118.3" width="3.2" height="3.2"/>
<circle cx="366.1" cy="141.9" r="1.35"/>
<path d="M365.1 128.1l2 2m0 -2l-2 2"/>
<circle cx="366.1" cy="130.9" r="1.35"/>
<path d="M365.1 135.4l2 2m0 -2l-2 2"/>
<rect x="364.5" y="167.8" width="3.2" height="3.2"/>
<circle cx="366.1" cy="114.4" r="1.35"/>
<rect x="364.5" y="107.3" width="3.2" height="3.2"/>
<rect x="364.5" y="142.1" width="3.2" height="3.2"/>
<rect x="364.5" y="149.5" width="3.2" height="3.2"/>
<path d="M365.1 139.1l2 2m0 -2l-2 2"/>
<rect x="364.5" y="133.0" width="3.2" height="3.2"/>
<rect x="366.1" y="140.3" width="3.2" height="3.2"/>
<circle cx="367.7" cy="132.7" r="1.35"/>
<path d="M366.7 155.6l2 2m0 -2l-2 2"/>
<path d="M366.7 153.8l2 2m0 -2l-2 2"/>
<path d="M366.7 175.8l2 2m0 -2l-2 2"/>
<circle cx="367.7" cy="138.2" r="1.35"/>
<rect x="366.1" y="182.5" width="3.2" height="3.2"/>
<path d="M366.7 148.2l2 2m0 -2l-2 2"/>
<path d="M366.7 166.6l2 2m0 -2l-2 2"/>
<path d="M366.7 129.9l2 2m0 -2l-2 2"/>
<rect x="366.1" y="156.8" width="3.2" height="3.2"/>
<circle cx="367.7" cy="123.6" r="1.35"/>
<path d="M366.7 177.6l2 2m0 -2l-2 2"/>
<path d="M366.7 170.3l2 2m0 -2l-2 2"/>
<path d="M366.7 135.4l2 2m0 -2l-2 2"/>
<rect x="366.1" y="138.5" width="3.2" height="3.2"/>
<rect x="367.7" y="156.8" width="3.2" height="3.2"/>
<rect x="367.7" y="138.5" width="3.2" height="3.2"/>
<rect x="367.7" y="142.1" width="3.2" height="3.2"/>
<path d="M368.3 117.1l2 2m0 -2l-2 2"/>
<circle cx="369.3" cy="121.7" r="1.35"/>
<circle cx="369.3" cy="107.0" r="1.35"/>
<rect x="367.7" y="156.8" width="3.2" height="3.2"/>
<rect x="367.7" y="138.5" width="3.2" height="3.2"/>
<rect x="367.7" y="134.8" width="3.2" height="3.2"/>
<path d="M368.3 104.2l2 2m0 -2l-2 2"/>
<rect x="367.7" y="153.2" width="3.2" height="3.2"/>
<path d="M368.3 128.1l2 2m0 -2l-2 2"/>
<circle cx="369.3" cy="169.4" r="1.35"/>
<rect x="367.7" y="123.8" width="3.2" height="3.2"/>
<circle cx="369.3" cy="156.6" r="1.35"/>
<rect x="369.4" y="177.0" width="3.2" height="3.2"/>
<rect x="369.4" y="167.8" width="3.2" height="3.2"/>
<circle cx="371.0" cy="141.9" r="1.35"/>
<rect x="369.4" y="144.0" width="3.2" height="3.2"/>
<circle cx="371.0" cy="171.3" r="1.35"/>
<rect x="369.4" y="116.5" width="3.2" height="3.2"/>
<path d="M370.0 148.2l2 2m0 -2l-2 2"/>
<rect x="369.4" y="169.7" width="3.2" height="3.2"/>
<rect x="369.4" y="151.3" width="3.2" height="3.2"/>
<path d="M370.0 157.4l2 2m0 -2l-2 2"/>
<circle cx="371.0" cy="156.6" r="1.35"/>
<rect x="369.4" y="145.8" width="3.2" height="3.2"/>
<rect x="369.4" y="166.0" width="3.2" height="3.2"/>
<rect x="369.4" y="149.5" width="3.2" height="3.2"/>
<path d="M371.6 183.1l2 2m0 -2l-2 2"/>
<rect x="371.0" y="173.3" width="3.2" height="3.2"/>
<rect x="371.0" y="164.2" width="3.2" height="3.2"/>
<rect x="371.0" y="160.5" width="3.2" height="3.2"/>
<rect x="371.0" y="120.1" width="3.2" height="3.2"/>
<rect x="371.0" y="160.5" width="3.2" height="3.2"/>
<rect x="371.0" y="134.8" width="3.2" height="3.2"/>
<rect x="371.0" y="180.7" width="3.2" height="3.2"/>
<rect x="371.0" y="164.2" width="3.2" height="3.2"/>
<path d="M371.6 113.4l2 2m0 -2l-2 2"/>
<path d="M371.6 151.9l2 2m0 -2l-2 2"/>
<rect x="371.0" y="153.2" width="3.2" height="3.2"/>
<circle cx="372.6" cy="147.4" r="1.35"/>
<rect x="372.6" y="153.2" width="3.2" height="3.2"/>
<rect x="372.6" y="160.5" width="3.2" height="3.2"/>
<rect x="372.6" y="134.8" width="3.2" height="3.2"/>
<path d="M373.2 162.9l2 2m0 -2l-2 2"/>
<rect x="372.6" y="167.8" width="3.2" height="3.2"/>
<circle cx="374.2" cy="173.1" r="1.35"/>
<rect x="372.6" y="131.1" width="3.2" height="3.2"/>
<path d="M373.2 170.3l2 2m0 -2l-2 2"/>
<path d="M373.2 140.9l2 2m0 -2l-2 2"/>
<path d="M373.2 144.6l2 2m0 -2l-2 2"/>
<path d="M373.2 115.2l2 2m0 -2l-2 2"/>
<path d="M373.2 164.8l2 2m0 -2l-2 2"/>
<rect x="374.3" y="177.0" width="3.2" height="3.2"/>
<circle cx="375.9" cy="149.2" r="1.35"/>
<circle cx="375.9" cy="141.9" r="1.35"/>
<circle cx="375.9" cy="105.2" r="1.35"/>
<rect x="374.3" y="118.3" width="3.2" height="3.2"/>
<rect x="374.3" y="105.4" width="3.2" height="3.2"/>
<rect x="374.3" y="147.6" width="3.2" height="3.2"/>
<rect x="374.3" y="120.1" width="3.2" height="3.2"/>
<rect x="374.3" y="129.3" width="3.2" height="3.2"/>
<rect x="374.3" y="131.1" width="3.2" height="3.2"/>
<rect x="374.3" y="133.0" width="3.2" height="3.2"/>
<path d="M374.9 168.4l2 2m0 -2l-2 2"/>
<rect x="375.9" y="133.0" width="3.2" height="3.2"/>
<circle cx="377.5" cy="152.9" r="1.35"/>
<path d="M376.5 177.6l2 2m0 -2l-2 2"/>
<circle cx="377.5" cy="158.4" r="1.35"/>
<circle cx="377.5" cy="134.6" r="1.35"/>
<rect x="375.9" y="160.5" width="3.2" height="3.2"/>
<rect x="375.9" y="156.8" width="3.2" height="3.2"/>
<circle cx="377.5" cy="160.3" r="1.35"/>
<circle cx="377.5" cy="158.4" r="1.35"/>
<rect x="375.9" y="162.3" width="3.2" height="3.2"/>
<rect x="375.9" y="167.8" width="3.2" height="3.2"/>
<rect x="377.5" y="162.3" width="3.2" height="3.2"/>
<circle cx="379.1" cy="127.2" r="1.35"/>
<circle cx="379.1" cy="180.4" r="1.35"/>
<circle cx="379.1" cy="151.1" r="1.35"/>
<circle cx="379.1" cy="178.6" r="1.35"/>
<rect x="377.5" y="155.0" width="3.2" height="3.2"/>
<circle cx="379.1" cy="141.9" r="1.35"/>
<path d="M378.1 150.1l2 2m0 -2l-2 2"/>
<circle cx="379.1" cy="141.9" r="1.35"/>
<path d="M378.1 120.7l2 2m0 -2l-2 2"/>
<path d="M378.1 153.8l2 2m0 -2l-2 2"/>
<rect x="379.2" y="120.1" width="3.2" height="3.2"/>
<rect x="379.2" y="173.3" width="3.2" height="3.2"/>
<rect x="379.2" y="134.8" width="3.2" height="3.2"/>
<circle cx="380.8" cy="140.1" r="1.35"/>
<rect x="379.2" y="123.8" width="3.2" height="3.2"/>
<circle cx="380.8" cy="119.9" r="1.35"/>
<circle cx="380.8" cy="163.9" r="1.35"/>
<circle cx="380.8" cy="151.1" r="1.35"/>
<rect x="379.2" y="127.5" width="3.2" height="3.2"/>
<path d="M379.8 148.2l2 2m0 -2l-2 2"/>
<path d="M381.4 153.8l2 2m0 -2l-2 2"/>
<path d="M381.4 113.4l2 2m0 -2l-2 2"/>
<rect x="380.8" y="127.5" width="3.2" height="3.2"/>
<rect x="380.8" y="144.0" width="3.2" height="3.2"/>
<rect x="380.8" y="173.3" width="3.2" height="3.2"/>
<rect x="380.8" y="162.3" width="3.2" height="3.2"/>
<rect x="380.8" y="162.3" width="3.2" height="3.2"/>
<path d="M381.4 166.6l2 2m0 -2l-2 2"/>
<path d="M381.4 135.4l2 2m0 -2l-2 2"/>
<circle cx="382.4" cy="162.1" r="1.35"/>
<rect x="382.4" y="162.3" width="3.2" height="3.2"/>
<rect x="382.4" y="138.5" width="3.2" height="3.2"/>
<circle cx="384.0" cy="151.1" r="1.35"/>
<rect x="382.4" y="167.8" width="3.2" height="3.2"/>
<rect x="382.4" y="180.7" width="3.2" height="3.2"/>
<rect x="382.4" y="136.6" width="3.2" height="3.2"/>
<rect x="382.4" y="147.6" width="3.2" height="3.2"/>
<circle cx="384.0" cy="130.9" r="1.35"/>
<circle cx="384.0" cy="182.3" r="1.35"/>
<rect x="384.1" y="123.8" width="3.2" height="3.2"/>
<circle cx="385.7" cy="127.2" r="1.35"/>
<rect x="384.1" y="162.3" width="3.2" height="3.2"/>
<rect x="384.1" y="171.5" width="3.2" height="3.2"/>
<rect x="384.1" y="134.8" width="3.2" height="3.2"/>
<circle cx="385.7" cy="141.9" r="1.35"/>
<path d="M384.7 118.9l2 2m0 -2l-2 2"/>
<rect x="384.1" y="158.7" width="3.2" height="3.2"/>
<circle cx="385.7" cy="140.1" r="1.35"/>
<path d="M386.3 124.4l2 2m0 -2l-2 2"/>
<rect x="385.7" y="177.0" width="3.2" height="3.2"/>
<rect x="385.7" y="173.3" width="3.2" height="3.2"/>
<rect x="385.7" y="140.3" width="3.2" height="3.2"/>
<path d="M386.3 159.3l2 2m0 -2l-2 2"/>
<rect x="385.7" y="136.6" width="3.2" height="3.2"/>
<path d="M386.3 107.9l2 2m0 -2l-2 2"/>
<rect x="385.7" y="149.5" width="3.2" height="3.2"/>
<circle cx="388.9" cy="160.3" r="1.35"/>
<circle cx="388.9" cy="136.4" r="1.35"/>
<rect x="387.3" y="167.8" width="3.2" height="3.2"/>
<path d="M387.9 175.8l2 2m0 -2l-2 2"/>
<path d="M387.9 135.4l2 2m0 -2l-2 2"/>
<rect x="387.3" y="125.6" width="3.2" height="3.2"/>
<rect x="387.3" y="142.1" width="3.2" height="3.2"/>
<circle cx="388.9" cy="105.2" r="1.35"/>
<circle cx="390.6" cy="141.9" r="1.35"/>
<path d="M389.6 137.2l2 2m0 -2l-2 2"/>
<rect x="389.0" y="156.8" width="3.2" height="3.2"/>
<circle cx="390.6" cy="178.6" r="1.35"/>
<rect x="389.0" y="144.0" width="3.2" height="3.2"/>
<rect x="389.0" y="151.3" width="3.2" height="3.2"/>
<circle cx="390.6" cy="116.2" r="1.35"/>
<rect x="389.0" y="145.8" width="3.2" height="3.2"/>
<rect x="390.6" y="134.8" width="3.2" height="3.2"/>
<path d="M391.2 162.9l2 2m0 -2l-2 2"/>
<circle cx="392.2" cy="154.8" r="1.35"/>
<rect x="390.6" y="142.1" width="3.2" height="3.2"/>
<circle cx="392.2" cy="138.2" r="1.35"/>
<rect x="390.6" y="120.1" width="3.2" height="3.2"/>
<rect x="390.6" y="123.8" width="3.2" height="3.2"/>
<rect x="392.2" y="147.6" width="3.2" height="3.2"/>
<rect x="392.2" y="160.5" width="3.2" height="3.2"/>
<circle cx="393.8" cy="125.4" r="1.35"/>
<rect x="392.2" y="156.8" width="3.2" height="3.2"/>
<rect x="392.2" y="147.6" width="3.2" height="3.2"/>
<rect x="392.2" y="129.3" width="3.2" height="3.2"/>
<rect x="392.2" y="178.8" width="3.2" height="3.2"/>
<circle cx="395.5" cy="129.1" r="1.35"/>
<rect x="393.9" y="136.6" width="3.2" height="3.2"/>
<path d="M394.5 148.2l2 2m0 -2l-2 2"/>
<rect x="395.5" y="158.7" width="3.2" height="3.2"/>
<circle cx="397.1" cy="182.3" r="1.35"/>
<rect x="397.2" y="169.7" width="3.2" height="3.2"/>
<circle cx="398.8" cy="121.7" r="1.35"/>
<circle cx="400.4" cy="149.2" r="1.35"/>
<rect x="398.8" y="133.0" width="3.2" height="3.2"/>
<path d="M401.0 146.4l2 2m0 -2l-2 2"/>
<circle cx="402.0" cy="132.7" r="1.35"/>
<rect x="402.1" y="158.7" width="3.2" height="3.2"/>
<rect x="402.1" y="134.8" width="3.2" height="3.2"/>
</g>
<line x1="341.0" y1="175.0" x2="522.6" y2="58.0" stroke="#222" stroke-width="0.8"/>
<line x1="341.0" y1="156.5" x2="522.6" y2="98.0" stroke="#111" stroke-width="1.1" stroke-dasharray="14.3 4.4"/>
<line x1="341.0" y1="145.0" x2="522.6" y2="158.0" stroke="#111" stroke-width="1.1" stroke-dasharray="5.8 4.3" stroke-dashoffset="1.2"/>
<text class="lt" text-anchor="middle" x="537.8" y="24.0">COMT</text>
<text class="lt" text-anchor="middle" x="537.8" y="29.8">rs165774</text>
<text class="li" x="538.8" y="39.7">A/A</text>
<text class="li" x="538.8" y="45.9">A/G</text>
<text class="li" x="538.8" y="52.0">G/G</text>
<text class="li" x="538.8" y="58.2">A/A</text>
<text class="li" x="538.8" y="64.3">A/G</text>
<text class="li" x="538.8" y="70.5">G/G</text>
<g class="lm"><circle cx="532.8" cy="38.0" r="1.3"/><rect x="531.4" y="42.8" width="2.8" height="2.8"/><path d="M531.9 49.4l1.8 1.8m0 -1.8l-1.8 1.8"/></g>
<line x1="529.2" y1="54.7" x2="537.4" y2="57.7" stroke="#222" stroke-width="0.5"/>
<line x1="529.2" y1="60.8" x2="537.4" y2="64.0" stroke="#111" stroke-width="1.1"/>
<line x1="529.2" y1="67.5" x2="533.8" y2="69.3" stroke="#111" stroke-width="1.1"/>
</g>
<g id="panelC">
<text class="pl" x="9.1" y="263.1">C</text>
<rect x="67.2" y="263.6" width="181.9" height="203.4" fill="none" stroke="#484848" stroke-width="0.9"/>
<text class="tk" text-anchor="middle" x="76.3" y="475.1">0.00</text>
<text class="tk" text-anchor="middle" x="108.9" y="475.1">1.00</text>
<text class="tk" text-anchor="middle" x="141.5" y="475.1">2.00</text>
<text class="tk" text-anchor="middle" x="174.1" y="475.1">3.00</text>
<text class="tk" text-anchor="middle" x="206.7" y="475.1">4.00</text>
<text class="tk" text-anchor="middle" x="239.3" y="475.1">5.00</text>
<text class="tk" text-anchor="end" x="63.1" y="459.2">0.00</text>
<text class="tk" text-anchor="end" x="63.1" y="426.4">25.00</text>
<text class="tk" text-anchor="end" x="63.1" y="393.7">50.00</text>
<text class="tk" text-anchor="end" x="63.1" y="360.9">75.00</text>
<text class="tk" text-anchor="end" x="63.1" y="328.2">100.00</text>
<text class="tk" text-anchor="end" x="63.1" y="295.4">125.00</text>
<path d="M76.3 467.0v3.4M108.9 467.0v3.4M141.5 467.0v3.4M174.1 467.0v3.4M206.7 467.0v3.4M239.3 467.0v3.4M67.2 457.2h-3.4M67.2 424.4h-3.4M67.2 391.7h-3.4M67.2 358.9h-3.4M67.2 326.2h-3.4M67.2 293.4h-3.4" stroke="#333" stroke-width="0.85" fill="none"/>
<text class="ti" text-anchor="middle" x="158.0" y="486.5">RFQ Childhood Maltreatment</text>
<text class="ti" style="font-size:6.85px" text-anchor="middle" transform="translate(42.2 365.6) rotate(-90)">ABS-2 Irrational Beliefs</text>
<g class="mk">
<rect x="74.9" y="311.5" width="3.2" height="3.2"/>
<rect x="110.7" y="286.6" width="3.2" height="3.2"/>
<rect x="107.6" y="299.7" width="3.2" height="3.2"/>
<rect x="110.7" y="310.6" width="3.2" height="3.2"/>
<rect x="107.6" y="319.7" width="3.2" height="3.2"/>
<rect x="107.6" y="338.9" width="3.2" height="3.2"/>
<rect x="155.0" y="272.2" width="3.2" height="3.2"/>
<rect x="125.8" y="302.4" width="3.2" height="3.2"/>
<rect x="128.3" y="308.9" width="3.2" height="3.2"/>
<rect x="128.3" y="311.5" width="3.2" height="3.2"/>
<rect x="134.3" y="310.6" width="3.2" height="3.2"/>
<rect x="137.2" y="314.2" width="3.2" height="3.2"/>
<rect x="143.4" y="319.7" width="3.2" height="3.2"/>
<rect x="158.3" y="319.7" width="3.2" height="3.2"/>
<rect x="148.9" y="326.2" width="3.2" height="3.2"/>
<rect x="128.3" y="324.8" width="3.2" height="3.2"/>
<rect x="131.6" y="324.8" width="3.2" height="3.2"/>
<rect x="122.5" y="328.4" width="3.2" height="3.2"/>
<rect x="119.2" y="332.6" width="3.2" height="3.2"/>
<rect x="140.5" y="332.6" width="3.2" height="3.2"/>
<rect x="131.6" y="336.6" width="3.2" height="3.2"/>
<rect x="158.3" y="338.9" width="3.2" height="3.2"/>
<rect x="119.2" y="340.8" width="3.2" height="3.2"/>
<rect x="163.0" y="333.9" width="3.2" height="3.2"/>
<circle cx="147.7" cy="300.0" r="1.35"/>
<circle cx="130.8" cy="337.3" r="1.35"/>
<path d="M131.8 305.7l2 2m0 -2l-2 2"/>
<path d="M143.6 312.3l2 2m0 -2l-2 2"/>
<path d="M158.9 314.5l2 2m0 -2l-2 2"/>
<path d="M123.1 318.6l2 2m0 -2l-2 2"/>
<path d="M128.9 318.6l2 2m0 -2l-2 2"/>
<path d="M111.6 323.5l2 2m0 -2l-2 2"/>
<path d="M114.4 323.5l2 2m0 -2l-2 2"/>
<path d="M108.2 326.8l2 2m0 -2l-2 2"/>
<path d="M114.0 329.0l2 2m0 -2l-2 2"/>
<path d="M123.1 325.4l2 2m0 -2l-2 2"/>
<path d="M128.9 328.1l2 2m0 -2l-2 2"/>
<path d="M137.8 327.7l2 2m0 -2l-2 2"/>
<path d="M134.9 331.7l2 2m0 -2l-2 2"/>
<path d="M118.2 334.5l2 2m0 -2l-2 2"/>
<path d="M132.2 333.5l2 2m0 -2l-2 2"/>
<path d="M144.0 336.3l2 2m0 -2l-2 2"/>
<path d="M144.0 338.5l2 2m0 -2l-2 2"/>
<path d="M126.4 338.5l2 2m0 -2l-2 2"/>
<path d="M116.7 342.6l2 2m0 -2l-2 2"/>
<path d="M123.1 342.6l2 2m0 -2l-2 2"/>
<path d="M151.3 343.0l2 2m0 -2l-2 2"/>
<rect x="167.0" y="297.1" width="3.2" height="3.2"/>
<rect x="169.9" y="301.1" width="3.2" height="3.2"/>
<rect x="193.4" y="301.1" width="3.2" height="3.2"/>
<rect x="199.8" y="310.6" width="3.2" height="3.2"/>
<rect x="196.5" y="319.3" width="3.2" height="3.2"/>
<rect x="190.7" y="332.4" width="3.2" height="3.2"/>
<rect x="187.4" y="335.1" width="3.2" height="3.2"/>
<rect x="190.7" y="336.9" width="3.2" height="3.2"/>
<rect x="181.6" y="337.5" width="3.2" height="3.2"/>
<rect x="169.9" y="337.5" width="3.2" height="3.2"/>
<rect x="169.9" y="340.2" width="3.2" height="3.2"/>
<rect x="223.4" y="338.9" width="3.2" height="3.2"/>
<rect x="163.9" y="333.5" width="3.2" height="3.2"/>
<circle cx="183.2" cy="322.4" r="1.35"/>
<circle cx="76.5" cy="406.3" r="1.35"/>
<rect x="169.9" y="351.6" width="3.2" height="3.2"/>
<rect x="173.2" y="351.6" width="3.2" height="3.2"/>
<rect x="179.4" y="351.2" width="3.2" height="3.2"/>
<rect x="182.3" y="351.2" width="3.2" height="3.2"/>
<rect x="185.2" y="351.2" width="3.2" height="3.2"/>
<rect x="211.6" y="349.8" width="3.2" height="3.2"/>
<rect x="214.9" y="351.9" width="3.2" height="3.2"/>
<rect x="166.1" y="360.3" width="3.2" height="3.2"/>
<rect x="173.2" y="396.5" width="3.2" height="3.2"/>
<rect x="175.8" y="399.4" width="3.2" height="3.2"/>
<rect x="164.3" y="407.9" width="3.2" height="3.2"/>
<rect x="163.4" y="360.3" width="3.2" height="3.2"/>
<circle cx="168.3" cy="374.1" r="1.35"/>
<circle cx="180.5" cy="385.4" r="1.35"/>
<path d="M188.5 347.3l2 2m0 -2l-2 2"/>
<path d="M180.4 355.8l2 2m0 -2l-2 2"/>
<path d="M185.5 360.7l2 2m0 -2l-2 2"/>
<path d="M176.4 372.2l2 2m0 -2l-2 2"/>
<path d="M176.4 378.5l2 2m0 -2l-2 2"/>
<path d="M188.5 376.4l2 2m0 -2l-2 2"/>
<path d="M197.6 374.9l2 2m0 -2l-2 2"/>
<path d="M197.6 380.4l2 2m0 -2l-2 2"/>
<path d="M185.5 387.3l2 2m0 -2l-2 2"/>
<path d="M188.5 397.3l2 2m0 -2l-2 2"/>
<path d="M208.9 395.8l2 2m0 -2l-2 2"/>
<path d="M170.5 397.3l2 2m0 -2l-2 2"/>
<path d="M167.3 402.5l2 2m0 -2l-2 2"/>
<path d="M173.8 403.6l2 2m0 -2l-2 2"/>
<path d="M176.4 403.6l2 2m0 -2l-2 2"/>
<path d="M167.6 408.5l2 2m0 -2l-2 2"/>
<path d="M170.5 423.5l2 2m0 -2l-2 2"/>
<path d="M164.0 389.5l2 2m0 -2l-2 2"/>
<rect x="107.6" y="411.6" width="3.2" height="3.2"/>
<rect x="107.6" y="421.6" width="3.2" height="3.2"/>
<rect x="107.6" y="438.5" width="3.2" height="3.2"/>
<rect x="74.9" y="455.6" width="3.2" height="3.2"/>
<rect x="140.5" y="451.6" width="3.2" height="3.2"/>
<rect x="137.2" y="430.7" width="3.2" height="3.2"/>
<rect x="125.8" y="432.5" width="3.2" height="3.2"/>
<rect x="122.5" y="427.6" width="3.2" height="3.2"/>
<rect x="116.1" y="430.7" width="3.2" height="3.2"/>
<rect x="112.9" y="421.6" width="3.2" height="3.2"/>
<rect x="116.1" y="421.6" width="3.2" height="3.2"/>
<rect x="122.5" y="420.7" width="3.2" height="3.2"/>
<rect x="129.0" y="421.6" width="3.2" height="3.2"/>
<rect x="134.3" y="420.7" width="3.2" height="3.2"/>
<rect x="143.8" y="418.9" width="3.2" height="3.2"/>
<rect x="147.0" y="418.9" width="3.2" height="3.2"/>
<rect x="151.9" y="417.6" width="3.2" height="3.2"/>
<rect x="155.0" y="417.6" width="3.2" height="3.2"/>
<rect x="112.9" y="415.8" width="3.2" height="3.2"/>
<rect x="122.5" y="417.0" width="3.2" height="3.2"/>
<rect x="129.0" y="413.4" width="3.2" height="3.2"/>
<rect x="112.5" y="411.6" width="3.2" height="3.2"/>
<rect x="122.5" y="411.6" width="3.2" height="3.2"/>
<rect x="158.3" y="409.8" width="3.2" height="3.2"/>
<rect x="161.6" y="411.6" width="3.2" height="3.2"/>
<rect x="163.4" y="429.8" width="3.2" height="3.2"/>
<rect x="163.0" y="450.3" width="3.2" height="3.2"/>
<circle cx="109.2" cy="429.5" r="1.35"/>
<circle cx="153.5" cy="412.6" r="1.35"/>
<circle cx="120.8" cy="430.5" r="1.35"/>
<path d="M75.5 456.2l2 2m0 -2l-2 2"/>
<path d="M108.2 449.5l2 2m0 -2l-2 2"/>
<path d="M114.0 447.1l2 2m0 -2l-2 2"/>
<path d="M114.0 440.4l2 2m0 -2l-2 2"/>
<path d="M126.4 437.6l2 2m0 -2l-2 2"/>
<path d="M119.8 434.9l2 2m0 -2l-2 2"/>
<path d="M134.9 433.1l2 2m0 -2l-2 2"/>
<path d="M132.2 430.0l2 2m0 -2l-2 2"/>
<path d="M128.5 431.3l2 2m0 -2l-2 2"/>
<path d="M114.0 431.3l2 2m0 -2l-2 2"/>
<path d="M137.8 455.8l2 2m0 -2l-2 2"/>
<path d="M155.6 440.4l2 2m0 -2l-2 2"/>
<path d="M162.2 439.5l2 2m0 -2l-2 2"/>
<path d="M158.9 427.3l2 2m0 -2l-2 2"/>
<path d="M144.0 424.9l2 2m0 -2l-2 2"/>
<path d="M144.0 427.3l2 2m0 -2l-2 2"/>
<path d="M137.8 423.1l2 2m0 -2l-2 2"/>
<path d="M134.9 418.2l2 2m0 -2l-2 2"/>
<path d="M144.0 412.5l2 2m0 -2l-2 2"/>
<path d="M137.8 414.0l2 2m0 -2l-2 2"/>
<path d="M116.7 424.9l2 2m0 -2l-2 2"/>
<path d="M119.8 425.8l2 2m0 -2l-2 2"/>
<path d="M123.1 413.1l2 2m0 -2l-2 2"/>
<path d="M116.7 413.1l2 2m0 -2l-2 2"/>
<path d="M170.5 423.1l2 2m0 -2l-2 2"/>
<path d="M170.5 431.3l2 2m0 -2l-2 2"/>
<path d="M173.8 432.5l2 2m0 -2l-2 2"/>
<path d="M167.3 435.3l2 2m0 -2l-2 2"/>
<path d="M179.5 441.6l2 2m0 -2l-2 2"/>
<rect x="163.9" y="429.4" width="3.2" height="3.2"/>
<rect x="163.9" y="450.3" width="3.2" height="3.2"/>
<rect x="146.4" y="373.1" width="3.2" height="3.2"/>
<path d="M109.5 398.6l2 2m0 -2l-2 2"/>
<rect x="110.6" y="378.3" width="3.2" height="3.2"/>
<circle cx="121.9" cy="362.9" r="1.35"/>
<rect x="128.5" y="379.6" width="3.2" height="3.2"/>
<path d="M114.4 360.6l2 2m0 -2l-2 2"/>
<rect x="108.9" y="404.5" width="3.2" height="3.2"/>
<rect x="126.9" y="386.2" width="3.2" height="3.2"/>
<path d="M119.3 390.7l2 2m0 -2l-2 2"/>
<circle cx="126.8" cy="377.3" r="1.35"/>
<path d="M107.9 365.8l2 2m0 -2l-2 2"/>
<rect x="115.4" y="415.0" width="3.2" height="3.2"/>
<rect x="139.9" y="352.1" width="3.2" height="3.2"/>
<rect x="138.3" y="411.1" width="3.2" height="3.2"/>
<rect x="117.1" y="349.5" width="3.2" height="3.2"/>
<rect x="112.2" y="416.3" width="3.2" height="3.2"/>
<rect x="123.6" y="395.3" width="3.2" height="3.2"/>
<rect x="113.8" y="387.5" width="3.2" height="3.2"/>
<rect x="125.2" y="346.9" width="3.2" height="3.2"/>
<path d="M132.3 415.6l2 2m0 -2l-2 2"/>
<circle cx="112.2" cy="387.8" r="1.35"/>
<path d="M120.9 372.4l2 2m0 -2l-2 2"/>
<rect x="120.3" y="400.6" width="3.2" height="3.2"/>
<path d="M111.2 344.8l2 2m0 -2l-2 2"/>
<rect x="113.8" y="360.0" width="3.2" height="3.2"/>
<rect x="135.0" y="391.4" width="3.2" height="3.2"/>
<rect x="113.8" y="354.7" width="3.2" height="3.2"/>
<rect x="125.2" y="365.2" width="3.2" height="3.2"/>
<circle cx="135.0" cy="366.8" r="1.35"/>
<rect x="120.3" y="365.2" width="3.2" height="3.2"/>
<circle cx="152.9" cy="360.3" r="1.35"/>
<rect x="136.6" y="352.1" width="3.2" height="3.2"/>
<rect x="133.4" y="361.3" width="3.2" height="3.2"/>
<path d="M107.9 389.4l2 2m0 -2l-2 2"/>
<rect x="151.3" y="382.2" width="3.2" height="3.2"/>
<circle cx="131.7" cy="398.2" r="1.35"/>
<circle cx="121.9" cy="365.5" r="1.35"/>
<circle cx="128.5" cy="393.0" r="1.35"/>
<rect x="120.3" y="356.0" width="3.2" height="3.2"/>
<path d="M130.7 403.8l2 2m0 -2l-2 2"/>
<path d="M114.4 378.9l2 2m0 -2l-2 2"/>
<rect x="133.4" y="371.8" width="3.2" height="3.2"/>
<circle cx="144.8" cy="379.9" r="1.35"/>
<rect x="113.8" y="384.9" width="3.2" height="3.2"/>
<rect x="110.6" y="365.2" width="3.2" height="3.2"/>
<rect x="118.7" y="392.7" width="3.2" height="3.2"/>
<path d="M158.4 382.8l2 2m0 -2l-2 2"/>
<circle cx="115.4" cy="376.0" r="1.35"/>
<path d="M145.4 385.5l2 2m0 -2l-2 2"/>
<path d="M112.8 369.7l2 2m0 -2l-2 2"/>
<circle cx="138.2" cy="351.1" r="1.35"/>
<rect x="146.4" y="394.0" width="3.2" height="3.2"/>
<circle cx="128.5" cy="410.0" r="1.35"/>
<rect x="108.9" y="401.9" width="3.2" height="3.2"/>
<rect x="122.0" y="366.5" width="3.2" height="3.2"/>
<rect x="107.3" y="377.0" width="3.2" height="3.2"/>
<rect x="107.3" y="375.7" width="3.2" height="3.2"/>
<circle cx="151.3" cy="407.4" r="1.35"/>
<rect x="112.2" y="390.1" width="3.2" height="3.2"/>
<circle cx="121.9" cy="415.3" r="1.35"/>
<circle cx="144.8" cy="402.2" r="1.35"/>
<rect x="120.3" y="379.6" width="3.2" height="3.2"/>
<path d="M114.4 360.6l2 2m0 -2l-2 2"/>
<rect x="149.7" y="396.6" width="3.2" height="3.2"/>
<circle cx="115.4" cy="362.9" r="1.35"/>
<path d="M129.1 382.8l2 2m0 -2l-2 2"/>
<rect x="115.4" y="382.2" width="3.2" height="3.2"/>
<path d="M156.8 348.8l2 2m0 -2l-2 2"/>
<rect x="138.3" y="354.7" width="3.2" height="3.2"/>
<rect x="108.9" y="399.3" width="3.2" height="3.2"/>
<path d="M127.5 359.3l2 2m0 -2l-2 2"/>
<path d="M155.2 394.6l2 2m0 -2l-2 2"/>
<circle cx="118.7" cy="415.3" r="1.35"/>
<path d="M109.5 371.0l2 2m0 -2l-2 2"/>
<rect x="159.5" y="392.7" width="3.2" height="3.2"/>
<rect x="152.9" y="387.5" width="3.2" height="3.2"/>
<rect x="126.9" y="369.1" width="3.2" height="3.2"/>
<circle cx="113.8" cy="411.3" r="1.35"/>
<circle cx="133.3" cy="400.9" r="1.35"/>
<circle cx="131.7" cy="353.7" r="1.35"/>
<path d="M114.4 384.1l2 2m0 -2l-2 2"/>
<circle cx="112.2" cy="396.9" r="1.35"/>
<path d="M130.7 385.5l2 2m0 -2l-2 2"/>
<rect x="110.6" y="394.0" width="3.2" height="3.2"/>
<path d="M111.2 394.6l2 2m0 -2l-2 2"/>
<circle cx="118.7" cy="382.5" r="1.35"/>
<path d="M137.2 350.1l2 2m0 -2l-2 2"/>
<rect x="117.1" y="383.5" width="3.2" height="3.2"/>
<rect x="113.8" y="360.0" width="3.2" height="3.2"/>
<path d="M151.9 380.2l2 2m0 -2l-2 2"/>
<rect x="161.1" y="361.3" width="3.2" height="3.2"/>
<circle cx="130.1" cy="387.8" r="1.35"/>
<rect x="112.2" y="369.1" width="3.2" height="3.2"/>
<path d="M140.5 369.7l2 2m0 -2l-2 2"/>
<rect x="130.1" y="394.0" width="3.2" height="3.2"/>
<circle cx="156.2" cy="349.8" r="1.35"/>
<rect x="138.3" y="413.7" width="3.2" height="3.2"/>
<circle cx="113.8" cy="394.3" r="1.35"/>
<path d="M117.7 405.1l2 2m0 -2l-2 2"/>
<path d="M111.2 354.0l2 2m0 -2l-2 2"/>
<rect x="112.2" y="388.8" width="3.2" height="3.2"/>
<circle cx="112.2" cy="386.5" r="1.35"/>
<rect x="107.3" y="387.5" width="3.2" height="3.2"/>
<rect x="120.3" y="357.3" width="3.2" height="3.2"/>
<rect x="112.2" y="378.3" width="3.2" height="3.2"/>
<rect x="125.2" y="365.2" width="3.2" height="3.2"/>
<rect x="108.9" y="377.0" width="3.2" height="3.2"/>
<rect x="122.0" y="349.5" width="3.2" height="3.2"/>
<rect x="117.1" y="399.3" width="3.2" height="3.2"/>
<circle cx="115.4" cy="408.7" r="1.35"/>
<rect x="126.9" y="403.2" width="3.2" height="3.2"/>
<rect x="148.1" y="362.6" width="3.2" height="3.2"/>
<path d="M114.4 415.6l2 2m0 -2l-2 2"/>
<circle cx="135.0" cy="370.7" r="1.35"/>
<rect x="112.2" y="371.8" width="3.2" height="3.2"/>
<path d="M127.5 402.5l2 2m0 -2l-2 2"/>
<rect x="128.5" y="386.2" width="3.2" height="3.2"/>
<rect x="108.9" y="345.6" width="3.2" height="3.2"/>
<rect x="117.1" y="370.4" width="3.2" height="3.2"/>
<rect x="122.0" y="375.7" width="3.2" height="3.2"/>
<rect x="110.6" y="408.4" width="3.2" height="3.2"/>
<rect x="108.9" y="378.3" width="3.2" height="3.2"/>
<rect x="112.2" y="354.7" width="3.2" height="3.2"/>
<circle cx="113.8" cy="382.5" r="1.35"/>
<rect x="123.6" y="394.0" width="3.2" height="3.2"/>
<rect x="126.9" y="378.3" width="3.2" height="3.2"/>
<circle cx="126.8" cy="379.9" r="1.35"/>
<circle cx="128.5" cy="386.5" r="1.35"/>
<rect x="112.2" y="367.8" width="3.2" height="3.2"/>
<rect x="128.5" y="413.7" width="3.2" height="3.2"/>
<circle cx="133.3" cy="358.9" r="1.35"/>
<rect x="123.6" y="374.4" width="3.2" height="3.2"/>
<circle cx="123.6" cy="390.4" r="1.35"/>
<circle cx="112.2" cy="355.0" r="1.35"/>
<circle cx="108.9" cy="381.2" r="1.35"/>
<path d="M132.3 397.2l2 2m0 -2l-2 2"/>
<rect x="131.7" y="358.7" width="3.2" height="3.2"/>
<rect x="112.2" y="405.8" width="3.2" height="3.2"/>
<path d="M111.2 390.7l2 2m0 -2l-2 2"/>
<rect x="118.7" y="345.6" width="3.2" height="3.2"/>
<path d="M117.7 369.7l2 2m0 -2l-2 2"/>
<path d="M130.7 351.4l2 2m0 -2l-2 2"/>
<circle cx="144.8" cy="365.5" r="1.35"/>
<rect x="138.3" y="400.6" width="3.2" height="3.2"/>
<rect x="130.1" y="386.2" width="3.2" height="3.2"/>
<rect x="110.6" y="386.2" width="3.2" height="3.2"/>
<circle cx="115.4" cy="412.7" r="1.35"/>
<path d="M125.8 401.2l2 2m0 -2l-2 2"/>
<circle cx="133.3" cy="385.1" r="1.35"/>
<path d="M129.1 363.2l2 2m0 -2l-2 2"/>
<path d="M119.3 395.9l2 2m0 -2l-2 2"/>
<path d="M109.5 403.8l2 2m0 -2l-2 2"/>
<rect x="133.4" y="404.5" width="3.2" height="3.2"/>
<circle cx="117.0" cy="419.2" r="1.35"/>
<rect x="156.2" y="367.8" width="3.2" height="3.2"/>
<circle cx="126.8" cy="355.0" r="1.35"/>
<circle cx="139.9" cy="377.3" r="1.35"/>
<rect x="110.6" y="387.5" width="3.2" height="3.2"/>
<path d="M130.7 385.5l2 2m0 -2l-2 2"/>
<circle cx="112.2" cy="378.6" r="1.35"/>
<rect x="122.0" y="356.0" width="3.2" height="3.2"/>
<path d="M117.7 357.9l2 2m0 -2l-2 2"/>
<path d="M111.2 403.8l2 2m0 -2l-2 2"/>
<rect x="122.0" y="374.4" width="3.2" height="3.2"/>
<rect x="120.3" y="375.7" width="3.2" height="3.2"/>
<path d="M147.0 395.9l2 2m0 -2l-2 2"/>
<path d="M143.8 365.8l2 2m0 -2l-2 2"/>
<circle cx="136.6" cy="387.8" r="1.35"/>
<rect x="115.4" y="403.2" width="3.2" height="3.2"/>
<circle cx="110.5" cy="407.4" r="1.35"/>
<path d="M111.2 360.6l2 2m0 -2l-2 2"/>
<circle cx="130.1" cy="362.9" r="1.35"/>
<path d="M147.0 397.2l2 2m0 -2l-2 2"/>
<path d="M112.8 403.8l2 2m0 -2l-2 2"/>
<rect x="108.9" y="394.0" width="3.2" height="3.2"/>
<rect x="149.7" y="392.7" width="3.2" height="3.2"/>
<path d="M116.0 393.3l2 2m0 -2l-2 2"/>
<path d="M111.2 402.5l2 2m0 -2l-2 2"/>
<rect x="110.6" y="388.8" width="3.2" height="3.2"/>
<circle cx="117.0" cy="390.4" r="1.35"/>
<rect x="107.3" y="405.8" width="3.2" height="3.2"/>
<rect x="107.3" y="374.4" width="3.2" height="3.2"/>
<path d="M107.9 361.9l2 2m0 -2l-2 2"/>
<rect x="110.6" y="387.5" width="3.2" height="3.2"/>
<circle cx="117.0" cy="399.6" r="1.35"/>
<circle cx="120.3" cy="357.6" r="1.35"/>
<circle cx="117.0" cy="395.6" r="1.35"/>
<rect x="117.1" y="349.5" width="3.2" height="3.2"/>
<circle cx="159.4" cy="411.3" r="1.35"/>
<path d="M124.2 380.2l2 2m0 -2l-2 2"/>
<rect x="122.0" y="388.8" width="3.2" height="3.2"/>
<rect x="139.9" y="360.0" width="3.2" height="3.2"/>
<rect x="112.2" y="344.2" width="3.2" height="3.2"/>
<rect x="144.8" y="379.6" width="3.2" height="3.2"/>
<circle cx="141.5" cy="390.4" r="1.35"/>
<rect x="143.2" y="369.1" width="3.2" height="3.2"/>
<rect x="133.4" y="361.3" width="3.2" height="3.2"/>
<rect x="113.8" y="348.2" width="3.2" height="3.2"/>
<rect x="110.6" y="411.1" width="3.2" height="3.2"/>
<path d="M138.9 367.1l2 2m0 -2l-2 2"/>
<circle cx="126.8" cy="357.6" r="1.35"/>
<path d="M111.2 344.8l2 2m0 -2l-2 2"/>
<circle cx="108.9" cy="355.0" r="1.35"/>
<path d="M138.9 393.3l2 2m0 -2l-2 2"/>
<circle cx="130.1" cy="377.3" r="1.35"/>
<circle cx="113.8" cy="366.8" r="1.35"/>
<rect x="146.4" y="388.8" width="3.2" height="3.2"/>
<rect x="118.7" y="380.9" width="3.2" height="3.2"/>
<path d="M109.5 393.3l2 2m0 -2l-2 2"/>
<path d="M148.7 410.3l2 2m0 -2l-2 2"/>
<rect x="138.3" y="352.1" width="3.2" height="3.2"/>
<circle cx="146.4" cy="403.5" r="1.35"/>
<rect x="152.9" y="378.3" width="3.2" height="3.2"/>
<path d="M134.0 394.6l2 2m0 -2l-2 2"/>
<path d="M125.8 401.2l2 2m0 -2l-2 2"/>
<path d="M158.4 390.7l2 2m0 -2l-2 2"/>
<rect x="135.0" y="362.6" width="3.2" height="3.2"/>
<rect x="117.1" y="363.9" width="3.2" height="3.2"/>
<rect x="112.2" y="383.5" width="3.2" height="3.2"/>
<rect x="136.6" y="418.9" width="3.2" height="3.2"/>
<rect x="138.3" y="394.0" width="3.2" height="3.2"/>
<rect x="118.7" y="394.0" width="3.2" height="3.2"/>
<path d="M109.5 402.5l2 2m0 -2l-2 2"/>
<circle cx="108.9" cy="383.8" r="1.35"/>
<rect x="125.2" y="386.2" width="3.2" height="3.2"/>
<rect x="141.5" y="403.2" width="3.2" height="3.2"/>
<rect x="135.0" y="360.0" width="3.2" height="3.2"/>
<path d="M109.5 388.1l2 2m0 -2l-2 2"/>
<rect x="126.9" y="396.6" width="3.2" height="3.2"/>
<circle cx="126.8" cy="416.6" r="1.35"/>
<circle cx="130.1" cy="360.3" r="1.35"/>
<circle cx="125.2" cy="396.9" r="1.35"/>
<path d="M107.9 375.0l2 2m0 -2l-2 2"/>
<rect x="112.2" y="361.3" width="3.2" height="3.2"/>
<rect x="154.6" y="383.5" width="3.2" height="3.2"/>
<rect x="128.5" y="369.1" width="3.2" height="3.2"/>
<rect x="159.5" y="388.8" width="3.2" height="3.2"/>
<path d="M153.5 416.9l2 2m0 -2l-2 2"/>
<circle cx="146.4" cy="373.4" r="1.35"/>
<path d="M129.1 368.4l2 2m0 -2l-2 2"/>
<rect x="138.3" y="354.7" width="3.2" height="3.2"/>
<circle cx="118.7" cy="412.7" r="1.35"/>
<circle cx="135.0" cy="398.2" r="1.35"/>
<circle cx="115.4" cy="400.9" r="1.35"/>
<circle cx="117.0" cy="383.8" r="1.35"/>
<circle cx="139.9" cy="394.3" r="1.35"/>
<rect x="122.0" y="404.5" width="3.2" height="3.2"/>
<rect x="123.6" y="380.9" width="3.2" height="3.2"/>
<circle cx="128.5" cy="398.2" r="1.35"/>
<rect x="110.6" y="382.2" width="3.2" height="3.2"/>
<rect x="161.1" y="388.8" width="3.2" height="3.2"/>
<path d="M120.9 392.0l2 2m0 -2l-2 2"/>
<rect x="112.2" y="396.6" width="3.2" height="3.2"/>
<rect x="113.8" y="392.7" width="3.2" height="3.2"/>
<circle cx="117.0" cy="348.5" r="1.35"/>
<rect x="125.2" y="400.6" width="3.2" height="3.2"/>
<rect x="128.5" y="360.0" width="3.2" height="3.2"/>
<path d="M119.3 359.3l2 2m0 -2l-2 2"/>
<rect x="107.3" y="353.4" width="3.2" height="3.2"/>
<rect x="125.2" y="366.5" width="3.2" height="3.2"/>
<rect x="159.5" y="369.1" width="3.2" height="3.2"/>
<path d="M117.7 403.8l2 2m0 -2l-2 2"/>
<rect x="117.1" y="366.5" width="3.2" height="3.2"/>
<path d="M122.6 356.6l2 2m0 -2l-2 2"/>
<rect x="133.4" y="361.3" width="3.2" height="3.2"/>
<path d="M120.9 348.8l2 2m0 -2l-2 2"/>
<circle cx="112.2" cy="398.2" r="1.35"/>
<path d="M114.4 352.7l2 2m0 -2l-2 2"/>
<circle cx="121.9" cy="374.7" r="1.35"/>
<rect x="131.7" y="378.3" width="3.2" height="3.2"/>
<path d="M111.2 354.0l2 2m0 -2l-2 2"/>
<path d="M142.1 397.2l2 2m0 -2l-2 2"/>
<path d="M120.9 407.7l2 2m0 -2l-2 2"/>
<circle cx="148.0" cy="396.9" r="1.35"/>
<path d="M130.7 347.5l2 2m0 -2l-2 2"/>
<path d="M137.2 365.8l2 2m0 -2l-2 2"/>
<rect x="112.2" y="391.4" width="3.2" height="3.2"/>
<rect x="113.8" y="417.6" width="3.2" height="3.2"/>
<rect x="154.6" y="398.0" width="3.2" height="3.2"/>
<rect x="118.7" y="411.1" width="3.2" height="3.2"/>
<rect x="123.6" y="416.3" width="3.2" height="3.2"/>
<circle cx="133.3" cy="398.2" r="1.35"/>
<rect x="115.4" y="344.2" width="3.2" height="3.2"/>
<rect x="110.6" y="390.1" width="3.2" height="3.2"/>
<circle cx="112.2" cy="361.6" r="1.35"/>
</g>
<line x1="67.2" y1="416.0" x2="249.1" y2="328.0" stroke="#222" stroke-width="0.8"/>
<line x1="67.2" y1="400.0" x2="249.1" y2="334.0" stroke="#111" stroke-width="1.1" stroke-dasharray="14.3 4.4"/>
<line x1="67.2" y1="381.0" x2="249.1" y2="388.0" stroke="#111" stroke-width="1.1" stroke-dasharray="5.8 4.3" stroke-dashoffset="1.2"/>
<text class="lt" text-anchor="middle" x="264.0" y="271.4">COMT</text>
<text class="lt" text-anchor="middle" x="264.0" y="277.2">rs165774</text>
<text class="li" x="265.0" y="287.1">A/A</text>
<text class="li" x="265.0" y="293.2">A/G</text>
<text class="li" x="265.0" y="299.4">G/G</text>
<text class="li" x="265.0" y="305.5">A/A</text>
<text class="li" x="265.0" y="311.7">A/G</text>
<text class="li" x="265.0" y="317.8">G/G</text>
<g class="lm"><circle cx="259.0" cy="285.4" r="1.3"/><rect x="257.6" y="290.1" width="2.8" height="2.8"/><path d="M258.1 296.8l1.8 1.8m0 -1.8l-1.8 1.8"/></g>
<line x1="255.4" y1="302.0" x2="263.6" y2="305.0" stroke="#222" stroke-width="0.5"/>
<line x1="255.4" y1="308.2" x2="263.6" y2="311.4" stroke="#111" stroke-width="1.1"/>
<line x1="255.4" y1="314.9" x2="260.0" y2="316.8" stroke="#111" stroke-width="1.1"/>
</g>
<g id="panelD">
<text class="pl" x="286.2" y="263.9">D</text>
<rect x="339.3" y="263.6" width="182.0" height="203.4" fill="none" stroke="#484848" stroke-width="0.9"/>
<text class="tk" text-anchor="middle" x="348.0" y="475.1">0.00</text>
<text class="tk" text-anchor="middle" x="380.7" y="475.1">1.00</text>
<text class="tk" text-anchor="middle" x="413.4" y="475.1">2.00</text>
<text class="tk" text-anchor="middle" x="446.1" y="475.1">3.00</text>
<text class="tk" text-anchor="middle" x="478.8" y="475.1">4.00</text>
<text class="tk" text-anchor="middle" x="511.5" y="475.1">5.00</text>
<text class="tk" text-anchor="end" x="335.2" y="460.0">20.00</text>
<text class="tk" text-anchor="end" x="335.2" y="423.1">40.00</text>
<text class="tk" text-anchor="end" x="335.2" y="386.2">60.00</text>
<text class="tk" text-anchor="end" x="335.2" y="349.3">80.00</text>
<text class="tk" text-anchor="end" x="335.2" y="312.4">100.00</text>
<text class="tk" text-anchor="end" x="335.2" y="275.5">120.00</text>
<path d="M348.0 467.0v3.4M380.7 467.0v3.4M413.4 467.0v3.4M446.1 467.0v3.4M478.8 467.0v3.4M511.5 467.0v3.4M339.3 458.0h-3.4M339.3 421.1h-3.4M339.3 384.2h-3.4M339.3 347.3h-3.4M339.3 310.4h-3.4M339.3 273.5h-3.4" stroke="#333" stroke-width="0.85" fill="none"/>
<text class="ti" text-anchor="middle" x="430.0" y="486.8">RFQ Childhood Maltreatment</text>
<text class="ti" style="font-size:6.85px" text-anchor="middle" transform="translate(314.6 365.0) rotate(-90)">GABS Irrational Beliefs</text>
<g class="mk">
<rect x="382.8" y="303.3" width="3.2" height="3.2"/>
<rect x="427.3" y="290.6" width="3.2" height="3.2"/>
<rect x="430.0" y="327.1" width="3.2" height="3.2"/>
<rect x="379.5" y="332.6" width="3.2" height="3.2"/>
<rect x="382.8" y="338.4" width="3.2" height="3.2"/>
<rect x="400.4" y="332.4" width="3.2" height="3.2"/>
<rect x="400.4" y="334.8" width="3.2" height="3.2"/>
<rect x="406.4" y="334.4" width="3.2" height="3.2"/>
<rect x="409.5" y="332.6" width="3.2" height="3.2"/>
<rect x="421.3" y="336.6" width="3.2" height="3.2"/>
<rect x="398.8" y="342.9" width="3.2" height="3.2"/>
<circle cx="419.8" cy="330.5" r="1.35"/>
<circle cx="393.1" cy="338.2" r="1.35"/>
<path d="M410.1 338.6l2 2m0 -2l-2 2"/>
<path d="M430.6 340.8l2 2m0 -2l-2 2"/>
<path d="M407.0 336.8l2 2m0 -2l-2 2"/>
<rect x="439.1" y="325.7" width="3.2" height="3.2"/>
<rect x="442.2" y="336.6" width="3.2" height="3.2"/>
<rect x="465.5" y="327.1" width="3.2" height="3.2"/>
<rect x="471.9" y="331.1" width="3.2" height="3.2"/>
<circle cx="455.3" cy="325.1" r="1.35"/>
<circle cx="470.4" cy="330.9" r="1.35"/>
<rect x="347.3" y="349.4" width="3.2" height="3.2"/>
<circle cx="348.5" cy="401.9" r="1.35"/>
<rect x="442.2" y="347.4" width="3.2" height="3.2"/>
<rect x="495.5" y="347.4" width="3.2" height="3.2"/>
<rect x="483.7" y="352.9" width="3.2" height="3.2"/>
<rect x="454.0" y="354.9" width="3.2" height="3.2"/>
<rect x="442.2" y="360.1" width="3.2" height="3.2"/>
<rect x="442.2" y="362.5" width="3.2" height="3.2"/>
<rect x="457.3" y="363.8" width="3.2" height="3.2"/>
<rect x="463.1" y="367.4" width="3.2" height="3.2"/>
<rect x="460.0" y="372.9" width="3.2" height="3.2"/>
<rect x="439.1" y="381.0" width="3.2" height="3.2"/>
<rect x="454.0" y="387.6" width="3.2" height="3.2"/>
<rect x="450.9" y="389.4" width="3.2" height="3.2"/>
<rect x="445.5" y="391.6" width="3.2" height="3.2"/>
<rect x="486.8" y="396.7" width="3.2" height="3.2"/>
<rect x="445.5" y="407.9" width="3.2" height="3.2"/>
<rect x="447.9" y="422.9" width="3.2" height="3.2"/>
<rect x="436.4" y="415.2" width="3.2" height="3.2"/>
<circle cx="452.5" cy="382.3" r="1.35"/>
<circle cx="438.0" cy="370.5" r="1.35"/>
<circle cx="440.7" cy="383.5" r="1.35"/>
<path d="M451.5 370.0l2 2m0 -2l-2 2"/>
<path d="M460.6 364.4l2 2m0 -2l-2 2"/>
<path d="M464.3 371.3l2 2m0 -2l-2 2"/>
<path d="M457.5 382.7l2 2m0 -2l-2 2"/>
<path d="M460.6 382.7l2 2m0 -2l-2 2"/>
<path d="M448.5 393.1l2 2m0 -2l-2 2"/>
<path d="M469.7 393.5l2 2m0 -2l-2 2"/>
<path d="M442.5 402.5l2 2m0 -2l-2 2"/>
<path d="M448.5 401.3l2 2m0 -2l-2 2"/>
<path d="M457.5 401.3l2 2m0 -2l-2 2"/>
<path d="M460.6 402.5l2 2m0 -2l-2 2"/>
<path d="M469.7 401.3l2 2m0 -2l-2 2"/>
<path d="M439.2 409.8l2 2m0 -2l-2 2"/>
<path d="M481.2 412.2l2 2m0 -2l-2 2"/>
<path d="M457.5 423.1l2 2m0 -2l-2 2"/>
<path d="M445.7 424.5l2 2m0 -2l-2 2"/>
<rect x="379.5" y="422.5" width="3.2" height="3.2"/>
<rect x="379.5" y="432.5" width="3.2" height="3.2"/>
<rect x="379.5" y="435.6" width="3.2" height="3.2"/>
<rect x="389.1" y="427.0" width="3.2" height="3.2"/>
<rect x="389.1" y="432.5" width="3.2" height="3.2"/>
<rect x="394.6" y="424.9" width="3.2" height="3.2"/>
<rect x="398.2" y="424.9" width="3.2" height="3.2"/>
<rect x="394.6" y="429.8" width="3.2" height="3.2"/>
<rect x="398.2" y="432.5" width="3.2" height="3.2"/>
<rect x="400.9" y="433.4" width="3.2" height="3.2"/>
<rect x="406.4" y="431.6" width="3.2" height="3.2"/>
<rect x="418.2" y="433.4" width="3.2" height="3.2"/>
<rect x="424.6" y="439.2" width="3.2" height="3.2"/>
<rect x="409.5" y="440.7" width="3.2" height="3.2"/>
<rect x="392.4" y="442.1" width="3.2" height="3.2"/>
<rect x="382.8" y="444.3" width="3.2" height="3.2"/>
<rect x="391.5" y="450.3" width="3.2" height="3.2"/>
<rect x="412.4" y="450.3" width="3.2" height="3.2"/>
<rect x="400.9" y="426.1" width="3.2" height="3.2"/>
<rect x="385.5" y="430.7" width="3.2" height="3.2"/>
<rect x="427.3" y="426.1" width="3.2" height="3.2"/>
<circle cx="384.4" cy="427.7" r="1.35"/>
<circle cx="387.1" cy="433.2" r="1.35"/>
<circle cx="416.5" cy="432.8" r="1.35"/>
<circle cx="381.1" cy="444.1" r="1.35"/>
<circle cx="384.4" cy="453.2" r="1.35"/>
<circle cx="428.9" cy="448.1" r="1.35"/>
<circle cx="390.7" cy="436.8" r="1.35"/>
<circle cx="397.1" cy="443.7" r="1.35"/>
<circle cx="426.5" cy="425.9" r="1.35"/>
<path d="M383.4 428.5l2 2m0 -2l-2 2"/>
<path d="M403.4 425.5l2 2m0 -2l-2 2"/>
<path d="M413.0 421.3l2 2m0 -2l-2 2"/>
<path d="M416.1 419.5l2 2m0 -2l-2 2"/>
<path d="M431.2 417.6l2 2m0 -2l-2 2"/>
<path d="M386.1 440.4l2 2m0 -2l-2 2"/>
<path d="M393.0 439.8l2 2m0 -2l-2 2"/>
<path d="M416.1 439.8l2 2m0 -2l-2 2"/>
<path d="M398.8 444.4l2 2m0 -2l-2 2"/>
<path d="M404.3 435.8l2 2m0 -2l-2 2"/>
<path d="M380.1 448.2l2 2m0 -2l-2 2"/>
<path d="M386.1 452.2l2 2m0 -2l-2 2"/>
<path d="M410.1 452.2l2 2m0 -2l-2 2"/>
<path d="M427.9 450.4l2 2m0 -2l-2 2"/>
<path d="M430.6 442.7l2 2m0 -2l-2 2"/>
<path d="M435.2 439.8l2 2m0 -2l-2 2"/>
<path d="M425.2 422.2l2 2m0 -2l-2 2"/>
<path d="M442.8 439.8l2 2m0 -2l-2 2"/>
<path d="M451.5 447.1l2 2m0 -2l-2 2"/>
<path d="M439.7 441.3l2 2m0 -2l-2 2"/>
<rect x="436.9" y="439.2" width="3.2" height="3.2"/>
<circle cx="382.3" cy="365.8" r="1.35"/>
<path d="M394.4 401.6l2 2m0 -2l-2 2"/>
<rect x="390.5" y="402.9" width="3.2" height="3.2"/>
<circle cx="387.2" cy="367.6" r="1.35"/>
<path d="M412.4 396.1l2 2m0 -2l-2 2"/>
<rect x="382.4" y="402.9" width="3.2" height="3.2"/>
<rect x="405.3" y="404.7" width="3.2" height="3.2"/>
<rect x="433.1" y="353.1" width="3.2" height="3.2"/>
<rect x="382.4" y="362.3" width="3.2" height="3.2"/>
<rect x="387.3" y="404.7" width="3.2" height="3.2"/>
<rect x="402.0" y="421.3" width="3.2" height="3.2"/>
<rect x="392.2" y="382.6" width="3.2" height="3.2"/>
<path d="M410.8 396.1l2 2m0 -2l-2 2"/>
<path d="M396.1 418.3l2 2m0 -2l-2 2"/>
<circle cx="395.4" cy="371.3" r="1.35"/>
<rect x="395.5" y="386.3" width="3.2" height="3.2"/>
<circle cx="385.6" cy="387.9" r="1.35"/>
<circle cx="395.4" cy="375.0" r="1.35"/>
<circle cx="429.8" cy="424.8" r="1.35"/>
<rect x="405.3" y="404.7" width="3.2" height="3.2"/>
<rect x="429.8" y="360.5" width="3.2" height="3.2"/>
<rect x="403.6" y="410.3" width="3.2" height="3.2"/>
<rect x="379.1" y="397.4" width="3.2" height="3.2"/>
<circle cx="408.5" cy="406.3" r="1.35"/>
<rect x="398.7" y="378.9" width="3.2" height="3.2"/>
<rect x="388.9" y="378.9" width="3.2" height="3.2"/>
<path d="M417.3 357.4l2 2m0 -2l-2 2"/>
<rect x="380.7" y="406.6" width="3.2" height="3.2"/>
<rect x="385.6" y="362.3" width="3.2" height="3.2"/>
<circle cx="402.0" cy="406.3" r="1.35"/>
<path d="M433.7 375.8l2 2m0 -2l-2 2"/>
<circle cx="382.3" cy="375.0" r="1.35"/>
<path d="M407.5 374.0l2 2m0 -2l-2 2"/>
<rect x="379.1" y="395.5" width="3.2" height="3.2"/>
<circle cx="380.7" cy="343.6" r="1.35"/>
<circle cx="403.6" cy="400.8" r="1.35"/>
<rect x="418.3" y="406.6" width="3.2" height="3.2"/>
<path d="M404.2 383.2l2 2m0 -2l-2 2"/>
<circle cx="382.3" cy="391.6" r="1.35"/>
<path d="M387.9 372.1l2 2m0 -2l-2 2"/>
<circle cx="384.0" cy="408.2" r="1.35"/>
<rect x="420.0" y="419.5" width="3.2" height="3.2"/>
<rect x="403.6" y="364.2" width="3.2" height="3.2"/>
<rect x="390.5" y="356.8" width="3.2" height="3.2"/>
<path d="M407.5 355.5l2 2m0 -2l-2 2"/>
<rect x="405.3" y="343.9" width="3.2" height="3.2"/>
<rect x="400.4" y="410.3" width="3.2" height="3.2"/>
<circle cx="410.1" cy="408.2" r="1.35"/>
<rect x="402.0" y="410.3" width="3.2" height="3.2"/>
<rect x="398.7" y="340.2" width="3.2" height="3.2"/>
<circle cx="403.6" cy="393.4" r="1.35"/>
<rect x="393.8" y="402.9" width="3.2" height="3.2"/>
<circle cx="428.1" cy="406.3" r="1.35"/>
<circle cx="410.1" cy="397.1" r="1.35"/>
<rect x="380.7" y="417.7" width="3.2" height="3.2"/>
<circle cx="395.4" cy="387.9" r="1.35"/>
<rect x="413.4" y="395.5" width="3.2" height="3.2"/>
<path d="M394.4 390.6l2 2m0 -2l-2 2"/>
<circle cx="392.1" cy="413.7" r="1.35"/>
<rect x="420.0" y="380.8" width="3.2" height="3.2"/>
<path d="M391.1 377.7l2 2m0 -2l-2 2"/>
<rect x="392.2" y="378.9" width="3.2" height="3.2"/>
<circle cx="385.6" cy="406.3" r="1.35"/>
<rect x="392.2" y="410.3" width="3.2" height="3.2"/>
<rect x="405.3" y="410.3" width="3.2" height="3.2"/>
<path d="M402.6 386.9l2 2m0 -2l-2 2"/>
<rect x="400.4" y="378.9" width="3.2" height="3.2"/>
<rect x="397.1" y="364.2" width="3.2" height="3.2"/>
<rect x="398.7" y="399.2" width="3.2" height="3.2"/>
<circle cx="426.5" cy="395.3" r="1.35"/>
<path d="M402.6 374.0l2 2m0 -2l-2 2"/>
<path d="M399.3 414.6l2 2m0 -2l-2 2"/>
<path d="M405.9 361.1l2 2m0 -2l-2 2"/>
<rect x="410.2" y="388.1" width="3.2" height="3.2"/>
<path d="M384.6 385.0l2 2m0 -2l-2 2"/>
<rect x="385.6" y="373.4" width="3.2" height="3.2"/>
<circle cx="398.7" cy="391.6" r="1.35"/>
<rect x="406.9" y="388.1" width="3.2" height="3.2"/>
<rect x="415.1" y="397.4" width="3.2" height="3.2"/>
<rect x="384.0" y="369.7" width="3.2" height="3.2"/>
<rect x="393.8" y="354.9" width="3.2" height="3.2"/>
<rect x="433.1" y="382.6" width="3.2" height="3.2"/>
<rect x="379.1" y="397.4" width="3.2" height="3.2"/>
<path d="M384.6 348.1l2 2m0 -2l-2 2"/>
<rect x="398.7" y="395.5" width="3.2" height="3.2"/>
<circle cx="385.6" cy="417.4" r="1.35"/>
<circle cx="413.4" cy="399.0" r="1.35"/>
<circle cx="410.1" cy="391.6" r="1.35"/>
<rect x="397.1" y="360.5" width="3.2" height="3.2"/>
<rect x="392.2" y="371.5" width="3.2" height="3.2"/>
<path d="M427.1 398.0l2 2m0 -2l-2 2"/>
<circle cx="384.0" cy="373.1" r="1.35"/>
<circle cx="395.4" cy="369.4" r="1.35"/>
<circle cx="384.0" cy="376.8" r="1.35"/>
<path d="M396.1 381.4l2 2m0 -2l-2 2"/>
<rect x="390.5" y="375.2" width="3.2" height="3.2"/>
<rect x="390.5" y="412.1" width="3.2" height="3.2"/>
<rect x="387.3" y="395.5" width="3.2" height="3.2"/>
<rect x="380.7" y="378.9" width="3.2" height="3.2"/>
<circle cx="436.3" cy="371.3" r="1.35"/>
<path d="M435.3 398.0l2 2m0 -2l-2 2"/>
<rect x="423.2" y="419.5" width="3.2" height="3.2"/>
<rect x="416.7" y="401.0" width="3.2" height="3.2"/>
<rect x="421.6" y="366.0" width="3.2" height="3.2"/>
<rect x="420.0" y="399.2" width="3.2" height="3.2"/>
<rect x="420.0" y="408.4" width="3.2" height="3.2"/>
<rect x="380.7" y="393.7" width="3.2" height="3.2"/>
<rect x="388.9" y="408.4" width="3.2" height="3.2"/>
<rect x="429.8" y="397.4" width="3.2" height="3.2"/>
<path d="M391.1 374.0l2 2m0 -2l-2 2"/>
<circle cx="380.7" cy="397.1" r="1.35"/>
<rect x="403.6" y="393.7" width="3.2" height="3.2"/>
<path d="M392.8 420.1l2 2m0 -2l-2 2"/>
<rect x="382.4" y="375.2" width="3.2" height="3.2"/>
<rect x="433.1" y="382.6" width="3.2" height="3.2"/>
<rect x="384.0" y="390.0" width="3.2" height="3.2"/>
<rect x="403.6" y="378.9" width="3.2" height="3.2"/>
<circle cx="387.2" cy="376.8" r="1.35"/>
<circle cx="406.9" cy="404.5" r="1.35"/>
<rect x="395.5" y="386.3" width="3.2" height="3.2"/>
<rect x="385.6" y="373.4" width="3.2" height="3.2"/>
<circle cx="387.2" cy="402.6" r="1.35"/>
<rect x="392.2" y="395.5" width="3.2" height="3.2"/>
<rect x="379.1" y="378.9" width="3.2" height="3.2"/>
<rect x="395.5" y="404.7" width="3.2" height="3.2"/>
<circle cx="385.6" cy="354.7" r="1.35"/>
<rect x="403.6" y="362.3" width="3.2" height="3.2"/>
<rect x="379.1" y="393.7" width="3.2" height="3.2"/>
<rect x="388.9" y="408.4" width="3.2" height="3.2"/>
<path d="M402.6 394.3l2 2m0 -2l-2 2"/>
<rect x="418.3" y="391.8" width="3.2" height="3.2"/>
<rect x="385.6" y="402.9" width="3.2" height="3.2"/>
<rect x="379.1" y="388.1" width="3.2" height="3.2"/>
<path d="M404.2 398.0l2 2m0 -2l-2 2"/>
<rect x="380.7" y="362.3" width="3.2" height="3.2"/>
<path d="M402.6 346.3l2 2m0 -2l-2 2"/>
<rect x="415.1" y="373.4" width="3.2" height="3.2"/>
<rect x="390.5" y="421.3" width="3.2" height="3.2"/>
<rect x="406.9" y="401.0" width="3.2" height="3.2"/>
<path d="M381.3 342.6l2 2m0 -2l-2 2"/>
<rect x="398.7" y="373.4" width="3.2" height="3.2"/>
<circle cx="408.5" cy="422.9" r="1.35"/>
<rect x="382.4" y="391.8" width="3.2" height="3.2"/>
<circle cx="400.3" cy="386.0" r="1.35"/>
<circle cx="390.5" cy="421.1" r="1.35"/>
<rect x="395.5" y="378.9" width="3.2" height="3.2"/>
<path d="M422.2 377.7l2 2m0 -2l-2 2"/>
<rect x="403.6" y="423.2" width="3.2" height="3.2"/>
<rect x="410.2" y="390.0" width="3.2" height="3.2"/>
<circle cx="385.6" cy="351.0" r="1.35"/>
<rect x="398.7" y="395.5" width="3.2" height="3.2"/>
<path d="M387.9 377.7l2 2m0 -2l-2 2"/>
<rect x="426.5" y="375.2" width="3.2" height="3.2"/>
<rect x="392.2" y="384.4" width="3.2" height="3.2"/>
<circle cx="419.9" cy="380.5" r="1.35"/>
<rect x="398.7" y="401.0" width="3.2" height="3.2"/>
<rect x="388.9" y="373.4" width="3.2" height="3.2"/>
<circle cx="380.7" cy="426.6" r="1.35"/>
<rect x="408.5" y="395.5" width="3.2" height="3.2"/>
<path d="M405.9 403.5l2 2m0 -2l-2 2"/>
<circle cx="393.8" cy="397.1" r="1.35"/>
<path d="M379.7 368.4l2 2m0 -2l-2 2"/>
<rect x="406.9" y="351.2" width="3.2" height="3.2"/>
<rect x="416.7" y="384.4" width="3.2" height="3.2"/>
<rect x="405.3" y="375.2" width="3.2" height="3.2"/>
<rect x="408.5" y="417.7" width="3.2" height="3.2"/>
<rect x="411.8" y="417.7" width="3.2" height="3.2"/>
<rect x="429.8" y="388.1" width="3.2" height="3.2"/>
<circle cx="400.3" cy="365.8" r="1.35"/>
<circle cx="410.1" cy="410.0" r="1.35"/>
<rect x="424.9" y="393.7" width="3.2" height="3.2"/>
<circle cx="429.8" cy="389.7" r="1.35"/>
<rect x="397.1" y="415.8" width="3.2" height="3.2"/>
<circle cx="392.1" cy="358.4" r="1.35"/>
<circle cx="403.6" cy="382.4" r="1.35"/>
<path d="M399.3 386.9l2 2m0 -2l-2 2"/>
<path d="M420.6 399.8l2 2m0 -2l-2 2"/>
<path d="M394.4 348.1l2 2m0 -2l-2 2"/>
<rect x="406.9" y="380.8" width="3.2" height="3.2"/>
<circle cx="392.1" cy="365.8" r="1.35"/>
<path d="M384.6 399.8l2 2m0 -2l-2 2"/>
<path d="M402.6 375.8l2 2m0 -2l-2 2"/>
<rect x="380.7" y="375.2" width="3.2" height="3.2"/>
<rect x="403.6" y="388.1" width="3.2" height="3.2"/>
<circle cx="406.9" cy="417.4" r="1.35"/>
<path d="M379.7 416.4l2 2m0 -2l-2 2"/>
<path d="M391.1 407.2l2 2m0 -2l-2 2"/>
<path d="M381.3 423.8l2 2m0 -2l-2 2"/>
<rect x="416.7" y="391.8" width="3.2" height="3.2"/>
<path d="M379.7 394.3l2 2m0 -2l-2 2"/>
<circle cx="403.6" cy="419.3" r="1.35"/>
<circle cx="398.7" cy="363.9" r="1.35"/>
<rect x="400.4" y="393.7" width="3.2" height="3.2"/>
<circle cx="428.1" cy="352.8" r="1.35"/>
<rect x="410.2" y="390.0" width="3.2" height="3.2"/>
<rect x="387.3" y="377.1" width="3.2" height="3.2"/>
<rect x="388.9" y="375.2" width="3.2" height="3.2"/>
<rect x="393.8" y="393.7" width="3.2" height="3.2"/>
<path d="M396.1 374.0l2 2m0 -2l-2 2"/>
<path d="M405.9 357.4l2 2m0 -2l-2 2"/>
<circle cx="390.5" cy="380.5" r="1.35"/>
<rect x="382.4" y="386.3" width="3.2" height="3.2"/>
<rect x="387.3" y="395.5" width="3.2" height="3.2"/>
<rect x="433.1" y="399.2" width="3.2" height="3.2"/>
<rect x="408.5" y="380.8" width="3.2" height="3.2"/>
<rect x="382.4" y="369.7" width="3.2" height="3.2"/>
<rect x="384.0" y="386.3" width="3.2" height="3.2"/>
<rect x="397.1" y="402.9" width="3.2" height="3.2"/>
<rect x="402.0" y="386.3" width="3.2" height="3.2"/>
<circle cx="393.8" cy="378.7" r="1.35"/>
<rect x="387.3" y="401.0" width="3.2" height="3.2"/>
<path d="M387.9 388.7l2 2m0 -2l-2 2"/>
<rect x="398.7" y="401.0" width="3.2" height="3.2"/>
<circle cx="398.7" cy="367.6" r="1.35"/>
<rect x="416.7" y="390.0" width="3.2" height="3.2"/>
<rect x="387.3" y="371.5" width="3.2" height="3.2"/>
<rect x="393.8" y="358.6" width="3.2" height="3.2"/>
<circle cx="433.0" cy="424.8" r="1.35"/>
<rect x="402.0" y="382.6" width="3.2" height="3.2"/>
<rect x="387.3" y="412.1" width="3.2" height="3.2"/>
<rect x="416.7" y="369.7" width="3.2" height="3.2"/>
<rect x="403.6" y="414.0" width="3.2" height="3.2"/>
<rect x="385.6" y="377.1" width="3.2" height="3.2"/>
<rect x="402.0" y="362.3" width="3.2" height="3.2"/>
<rect x="393.8" y="423.2" width="3.2" height="3.2"/>
<path d="M415.7 405.3l2 2m0 -2l-2 2"/>
<circle cx="402.0" cy="378.7" r="1.35"/>
<rect x="421.6" y="358.6" width="3.2" height="3.2"/>
<rect x="390.5" y="377.1" width="3.2" height="3.2"/>
<rect x="390.5" y="401.0" width="3.2" height="3.2"/>
<rect x="400.4" y="380.8" width="3.2" height="3.2"/>
<rect x="382.4" y="421.3" width="3.2" height="3.2"/>
<rect x="384.0" y="378.9" width="3.2" height="3.2"/>
<rect x="379.1" y="395.5" width="3.2" height="3.2"/>
<circle cx="390.5" cy="363.9" r="1.35"/>
<path d="M428.8 357.4l2 2m0 -2l-2 2"/>
<rect x="380.7" y="358.6" width="3.2" height="3.2"/>
<path d="M396.1 366.6l2 2m0 -2l-2 2"/>
<circle cx="415.0" cy="387.9" r="1.35"/>
<circle cx="406.9" cy="384.2" r="1.35"/>
<path d="M399.3 377.7l2 2m0 -2l-2 2"/>
<rect x="385.6" y="366.0" width="3.2" height="3.2"/>
<rect x="418.3" y="382.6" width="3.2" height="3.2"/>
<circle cx="418.3" cy="387.9" r="1.35"/>
<circle cx="382.3" cy="421.1" r="1.35"/>
<circle cx="426.5" cy="380.5" r="1.35"/>
<circle cx="382.3" cy="386.0" r="1.35"/>
<rect x="392.2" y="414.0" width="3.2" height="3.2"/>
<circle cx="410.1" cy="411.9" r="1.35"/>
<circle cx="400.3" cy="382.4" r="1.35"/>
<path d="M427.1 359.2l2 2m0 -2l-2 2"/>
<rect x="429.8" y="371.5" width="3.2" height="3.2"/>
<circle cx="393.8" cy="375.0" r="1.35"/>
<circle cx="392.1" cy="400.8" r="1.35"/>
<path d="M404.2 366.6l2 2m0 -2l-2 2"/>
<path d="M381.3 401.6l2 2m0 -2l-2 2"/>
<rect x="393.8" y="414.0" width="3.2" height="3.2"/>
<path d="M409.1 407.2l2 2m0 -2l-2 2"/>
<rect x="410.2" y="406.6" width="3.2" height="3.2"/>
<rect x="380.7" y="343.9" width="3.2" height="3.2"/>
<circle cx="411.8" cy="393.4" r="1.35"/>
<circle cx="413.4" cy="397.1" r="1.35"/>
<rect x="387.3" y="410.3" width="3.2" height="3.2"/>
<path d="M383.0 405.3l2 2m0 -2l-2 2"/>
<circle cx="390.5" cy="343.6" r="1.35"/>
<rect x="397.1" y="369.7" width="3.2" height="3.2"/>
<circle cx="416.7" cy="360.2" r="1.35"/>
<rect x="410.2" y="386.3" width="3.2" height="3.2"/>
<rect x="415.1" y="354.9" width="3.2" height="3.2"/>
<rect x="424.9" y="390.0" width="3.2" height="3.2"/>
<rect x="403.6" y="399.2" width="3.2" height="3.2"/>
<rect x="415.1" y="358.6" width="3.2" height="3.2"/>
<rect x="408.5" y="404.7" width="3.2" height="3.2"/>
<rect x="398.7" y="402.9" width="3.2" height="3.2"/>
<rect x="390.5" y="404.7" width="3.2" height="3.2"/>
<path d="M391.1 392.4l2 2m0 -2l-2 2"/>
<path d="M399.3 388.7l2 2m0 -2l-2 2"/>
<path d="M410.8 412.7l2 2m0 -2l-2 2"/>
<circle cx="406.9" cy="406.3" r="1.35"/>
<circle cx="390.5" cy="399.0" r="1.35"/>
<circle cx="402.0" cy="386.0" r="1.35"/>
<circle cx="408.5" cy="395.3" r="1.35"/>
<circle cx="390.5" cy="345.5" r="1.35"/>
<path d="M405.9 361.1l2 2m0 -2l-2 2"/>
<rect x="395.5" y="391.8" width="3.2" height="3.2"/>
<rect x="382.4" y="399.2" width="3.2" height="3.2"/>
<circle cx="411.8" cy="380.5" r="1.35"/>
<rect x="395.5" y="386.3" width="3.2" height="3.2"/>
<path d="M389.5 416.4l2 2m0 -2l-2 2"/>
<circle cx="393.8" cy="354.7" r="1.35"/>
<rect x="393.8" y="366.0" width="3.2" height="3.2"/>
<rect x="406.9" y="367.8" width="3.2" height="3.2"/>
<path d="M407.5 350.0l2 2m0 -2l-2 2"/>
<path d="M396.1 394.3l2 2m0 -2l-2 2"/>
<path d="M399.3 416.4l2 2m0 -2l-2 2"/>
<path d="M433.7 342.6l2 2m0 -2l-2 2"/>
<circle cx="398.7" cy="413.7" r="1.35"/>
<rect x="421.6" y="384.4" width="3.2" height="3.2"/>
<circle cx="392.1" cy="387.9" r="1.35"/>
<circle cx="403.6" cy="376.8" r="1.35"/>
</g>
<line x1="339.3" y1="422.0" x2="521.3" y2="352.0" stroke="#222" stroke-width="0.8"/>
<line x1="339.3" y1="411.0" x2="521.3" y2="354.0" stroke="#111" stroke-width="1.1" stroke-dasharray="14.3 4.4"/>
<line x1="339.3" y1="391.0" x2="521.3" y2="404.0" stroke="#111" stroke-width="1.1" stroke-dasharray="5.8 4.3" stroke-dashoffset="1.2"/>
<text class="lt" text-anchor="middle" x="536.2" y="271.4">COMT</text>
<text class="lt" text-anchor="middle" x="536.2" y="277.2">rs165774</text>
<text class="li" x="537.2" y="287.1">A/A</text>
<text class="li" x="537.2" y="293.2">A/G</text>
<text class="li" x="537.2" y="299.4">G/G</text>
<text class="li" x="537.2" y="305.5">A/A</text>
<text class="li" x="537.2" y="311.7">A/G</text>
<text class="li" x="537.2" y="317.8">G/G</text>
<g class="lm"><circle cx="531.2" cy="285.4" r="1.3"/><rect x="529.8" y="290.1" width="2.8" height="2.8"/><path d="M530.3 296.8l1.8 1.8m0 -1.8l-1.8 1.8"/></g>
<line x1="527.6" y1="302.0" x2="535.8" y2="305.0" stroke="#222" stroke-width="0.5"/>
<line x1="527.6" y1="308.2" x2="535.8" y2="311.4" stroke="#111" stroke-width="1.1"/>
<line x1="527.6" y1="314.9" x2="532.2" y2="316.8" stroke="#111" stroke-width="1.1"/>
</g>
</svg></body></html>
